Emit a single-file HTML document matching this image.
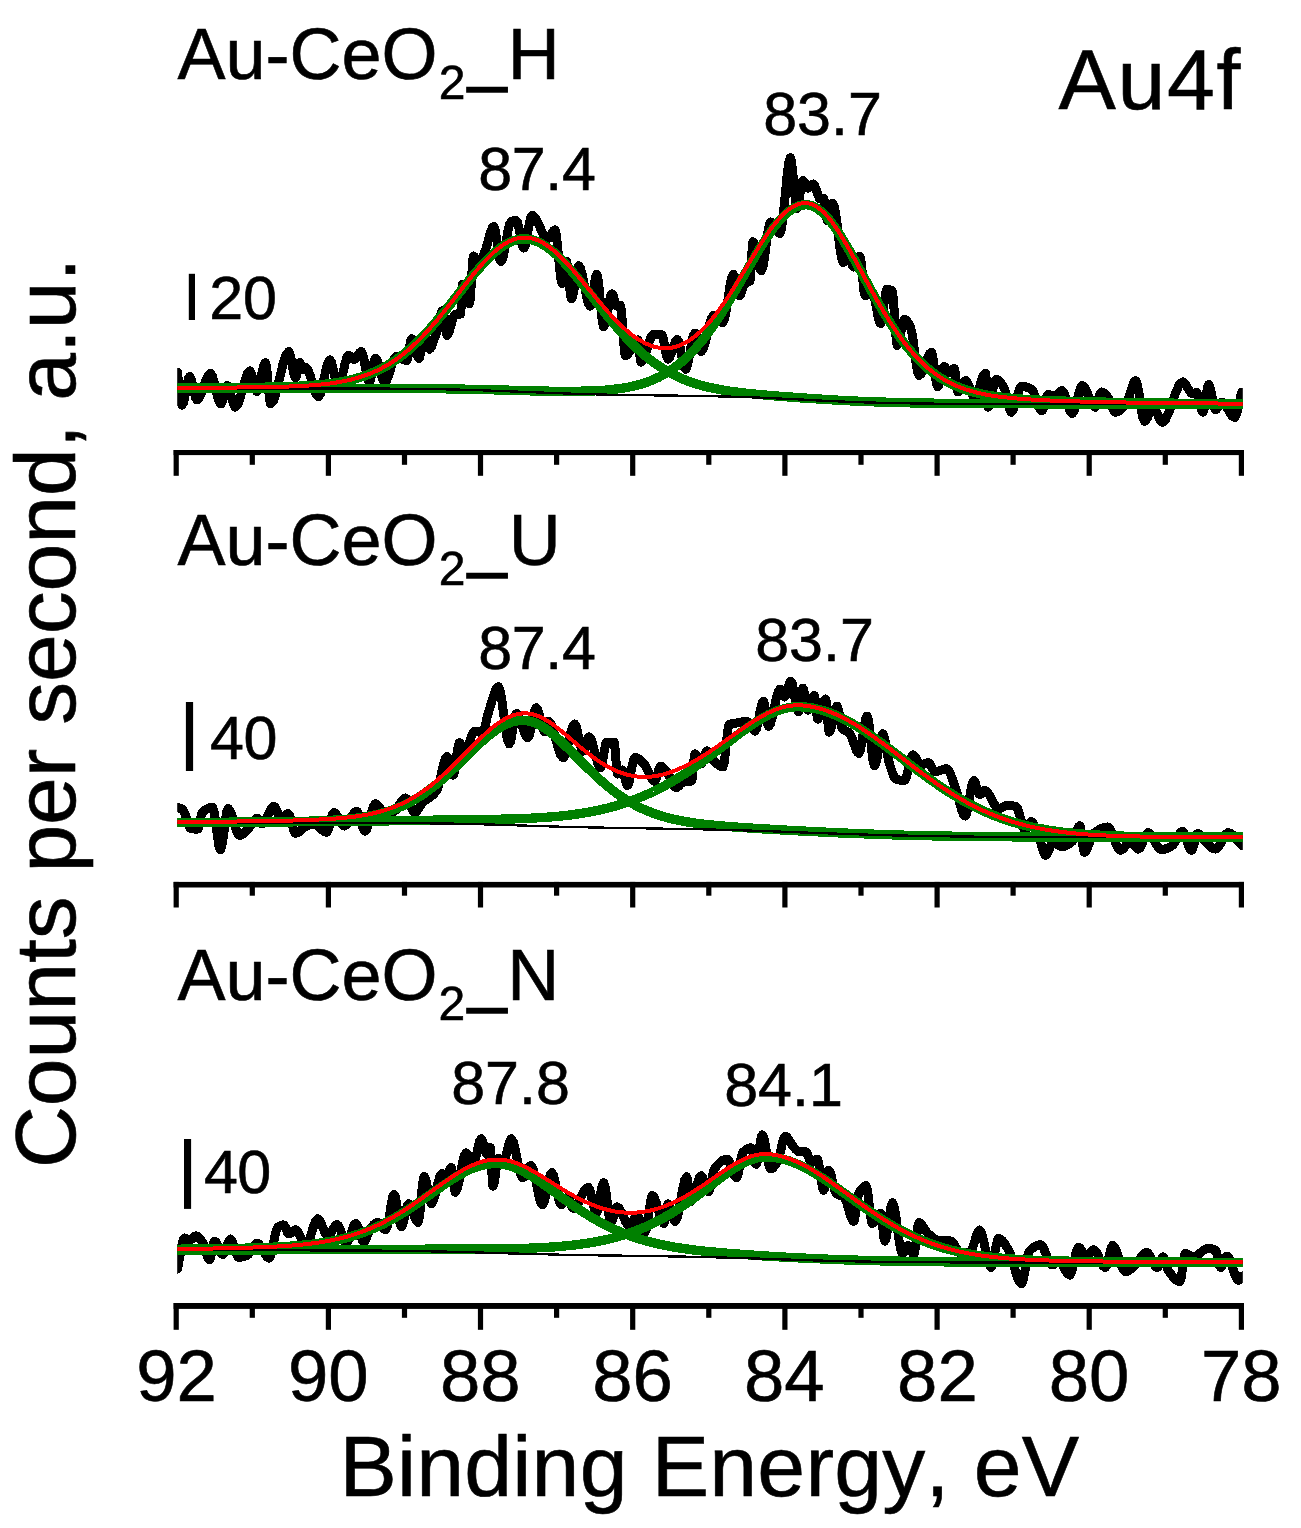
<!DOCTYPE html>
<html lang="en"><head><meta charset="utf-8"><title>Au4f XPS spectra</title>
<style>
html,body{margin:0;padding:0;background:#fff}
body{width:1301px;height:1528px;overflow:hidden}
svg{display:block}
text{font-family:"Liberation Sans",sans-serif;fill:#000;stroke:#000;stroke-width:0.6px;font-kerning:none}
.d,.g,.b,.r{fill:none;stroke-linejoin:round;stroke-linecap:round;shape-rendering:crispEdges}
.d{stroke:#000;stroke-width:9}
.g{stroke:#008000;stroke-width:9.4}
.b{stroke:#000;stroke-width:2.3;stroke-linecap:butt}
.r{stroke:#f00;stroke-width:4}
.ax{fill:none;stroke:#000;stroke-width:6}
.tk{fill:none;stroke:#000;stroke-width:5.6}
</style></head><body>
<svg width="1301" height="1528" viewBox="0 0 1301 1528">
<rect width="1301" height="1528" fill="#fff"/>
<clipPath id="cp"><rect x="177.2" y="0" width="1065.6" height="1528"/></clipPath>
<g clip-path="url(#cp)">
<path class="d" d="M177.5 372.3L178.2 378.5L179 385.7L179.8 392.8L180.5 399.0L181.3 403.4L182 405.1L183.3 403.0L184.6 397.7L185.9 390.8L187.2 383.9L188.4 378.6L189.7 376.4L190.9 378.2L192.1 382.5L193.3 388.2L194.6 393.8L195.8 398.2L197 399.9L199.2 397.9L201.5 393.0L203.7 386.6L206 380.2L208.2 375.3L210.5 373.3L212.2 375.6L213.9 381.3L215.7 388.7L217.4 396.1L219.1 401.8L220.8 404.0L221.9 402.7L222.9 399.2L224 394.7L225 390.2L226 386.7L227.1 385.4L228.4 387.0L229.8 391.0L231.2 396.3L232.6 401.5L234 405.5L235.4 407.2L237.8 404.5L240.2 397.7L242.6 389.0L245.1 380.3L247.5 373.5L249.9 370.8L251 372.4L252.2 376.2L253.3 381.2L254.5 386.2L255.6 390.1L256.7 391.6L258.2 389.4L259.6 384.1L261.1 377.1L262.6 370.1L264 364.7L265.5 362.5L266.3 365.6L267.2 373.3L268 383.3L268.9 393.3L269.8 401.0L270.6 404.0L273.7 400.2L276.7 390.4L279.7 377.8L282.7 365.2L285.7 355.4L288.7 351.5L289.8 353.5L291 358.4L292.1 364.8L293.3 371.2L294.4 376.1L295.5 378.1L296.2 377.0L296.9 374.1L297.6 370.3L298.3 366.6L299 363.7L299.7 362.5L300.2 363.1L300.7 364.4L301.3 366.2L301.8 367.9L302.3 369.3L302.8 369.8L303.3 369.6L303.8 369.3L304.4 368.8L304.9 368.3L305.4 367.9L305.9 367.7L308 369.9L310.1 375.3L312.1 382.3L314.2 389.2L316.3 394.6L318.4 396.8L320.3 394.0L322.2 387.2L324.1 378.3L326 369.4L327.9 362.6L329.8 359.8L331.2 361.8L332.7 366.7L334.1 373.1L335.6 379.5L337 384.4L338.5 386.4L340.2 384.1L341.8 378.3L343.5 370.8L345.1 363.3L346.8 357.6L348.5 355.3L349.4 355.6L350.4 356.4L351.4 357.4L352.3 358.4L353.3 359.1L354.3 359.4L355.4 358.8L356.6 357.4L357.8 355.5L359 353.6L360.2 352.1L361.3 351.5L362.6 353.8L364 359.5L365.3 366.9L366.6 374.3L367.9 380.0L369.2 382.3L370.2 380.5L371.3 376.1L372.3 370.3L373.4 364.6L374.4 360.2L375.4 358.4L377 360.2L378.5 364.6L380.1 370.3L381.7 376.1L383.2 380.5L384.8 382.3L386.7 380.3L388.6 375.5L390.5 369.3L392.4 363.0L394.3 358.2L396.2 356.3L397.9 356.6L399.6 357.4L401.4 358.4L403.1 359.4L404.8 360.2L406.6 360.5L407.4 358.9L408.3 354.8L409.2 349.6L410 344.3L410.9 340.3L411.8 338.7L413 340.1L414.2 343.8L415.4 348.5L416.6 353.3L417.8 356.9L419 358.4L419.9 356.7L420.7 352.5L421.6 347.0L422.5 341.5L423.3 337.3L424.2 335.6L425.1 336.6L425.9 339.1L426.8 342.3L427.7 345.6L428.5 348.1L429.4 349.1L430.4 348.4L431.4 346.7L432.5 344.2L433.5 341.3L434.5 338.2L435.6 335.3L436.8 331.2L438 325.9L439.2 320.4L440.4 315.4L441.6 311.7L442.8 310.4L443.5 312.2L444.2 316.8L444.9 322.8L445.6 328.8L446.3 333.4L447 335.3L448.4 333.7L449.7 330.0L451.1 325.0L452.5 320.1L453.9 316.2L455.3 314.5L456.1 314.4L457 314.4L457.9 314.3L458.7 314.3L459.6 314.2L460.5 314.1L460.8 311.8L461.2 306.3L461.5 299.2L461.8 292.1L462.2 286.6L462.5 284.4L463.7 285.8L464.8 289.4L466 294.1L467.1 298.7L468.2 302.3L469.4 303.7L470.1 300.2L470.8 291.3L471.5 279.9L472.2 268.4L472.8 259.5L473.5 256.0L474.5 256.6L475.5 258.2L476.4 260.2L477.4 262.3L478.4 263.9L479.3 264.5L480.4 263.7L481.5 261.7L482.6 258.8L483.6 255.5L484.7 252.0L485.8 248.9L487.1 244.9L488.4 240.1L489.7 235.2L491 230.8L492.4 227.7L493.7 226.5L494.9 229.1L496.1 235.6L497.3 244.1L498.5 252.5L499.7 259.0L500.9 261.6L502.7 258.6L504.4 251.2L506.1 241.5L507.8 231.8L509.6 224.3L511.3 221.1L512.2 221.0L513 220.9L513.9 220.8L514.8 220.8L515.6 220.7L516.5 220.7L517.7 222.7L518.9 227.8L520.1 234.4L521.3 241.0L522.5 246.1L523.8 248.1L525.1 245.7L526.5 239.6L527.9 231.7L529.3 223.8L530.7 217.7L532.1 215.3L534.7 217.1L537.2 221.4L539.8 227.0L542.4 232.7L545 237.0L547.6 238.8L548.8 238.1L550 236.5L551.3 234.3L552.5 232.2L553.7 230.5L554.9 229.8L556.1 233.8L557.3 243.7L558.5 256.6L559.7 269.5L560.9 279.4L562.1 283.4L562.8 281.7L563.5 277.6L564.2 272.2L564.9 266.8L565.6 262.6L566.3 261.0L567.2 263.8L568 270.8L568.9 280.0L569.8 289.1L570.6 296.1L571.5 298.9L572.7 296.5L573.9 290.3L575.1 282.3L576.3 274.3L577.5 268.2L578.7 265.7L580.6 268.7L582.6 276.2L584.5 286.0L586.4 295.7L588.3 303.2L590.2 306.2L591.3 303.8L592.4 297.9L593.5 290.1L594.6 282.4L595.7 276.4L596.8 274.0L597.9 278.0L599.1 287.8L600.2 300.5L601.4 313.2L602.5 323.0L603.6 327.0L605 324.5L606.4 318.3L607.8 310.4L609.2 302.4L610.6 296.2L611.9 293.8L612.8 294.7L613.7 297.0L614.5 300.0L615.4 303.0L616.3 305.3L617.1 306.2L617.7 306.1L618.2 305.9L618.7 305.7L619.2 305.4L619.7 305.2L620.2 305.2L621.1 308.9L622 318.3L622.8 330.6L623.7 342.8L624.6 352.2L625.4 356.0L627.5 354.8L629.6 351.8L631.7 347.9L633.7 344.0L635.8 341.0L637.9 339.8L638.4 341.5L638.9 345.6L639.4 351.0L640 356.4L640.5 360.6L641 362.2L643.1 360.2L645.2 355.0L647.2 348.2L649.3 341.5L651.4 336.3L653.5 334.2L654.8 334.2L656.2 334.3L657.6 334.4L659 334.5L660.4 334.6L661.8 334.8L662.8 336.8L663.8 341.3L664.9 347.1L665.9 352.9L666.9 357.3L668 359.1L669.5 357.7L671.1 354.0L672.6 349.3L674.2 344.5L675.8 340.9L677.3 339.4L678.7 341.6L680.1 347.2L681.4 354.4L682.8 361.6L684.2 367.1L685.6 369.3L687.1 366.6L688.7 359.9L690.2 351.1L691.8 342.4L693.3 335.7L694.9 333.0L695.9 334.4L697 337.8L698 342.3L699.1 346.8L700.1 350.3L701.1 351.7L703.2 349.0L705.3 342.2L707.4 333.5L709.4 324.8L711.5 318.0L713.6 315.3L715.1 315.9L716.7 317.2L718.2 319.0L719.8 320.7L721.4 322.1L722.9 322.6L724.6 319.0L726.4 310.1L728.1 298.4L729.8 286.8L731.6 277.8L733.3 274.3L734.3 275.8L735.4 279.8L736.4 284.9L737.4 290.1L738.5 294.1L739.5 295.6L740.4 294.8L741.2 292.7L742.1 289.9L743 286.9L743.8 284.5L744.7 283.2L745.6 282.7L746.4 282.4L747.3 282.2L748.2 282.0L749 281.7L749.9 281.1L750.4 277.9L750.9 270.5L751.4 261.1L752 251.7L752.5 244.5L753 241.7L754.4 243.8L755.8 249.2L757.2 256.2L758.5 263.2L759.9 268.6L761.3 270.7L762.9 267.1L764.4 258.1L766 246.3L767.5 234.6L769.1 225.6L770.6 222.0L772.2 222.8L773.8 224.9L775.3 227.7L776.9 230.4L778.4 232.5L780 233.4L781.7 227.8L783.4 213.7L785.2 195.5L786.9 177.3L788.6 163.2L790.4 157.6L791.5 161.4L792.6 170.8L793.7 183.1L794.8 195.3L795.9 204.7L797 208.5L798 206.4L798.9 201.2L799.9 194.5L800.9 187.7L801.8 182.5L802.8 180.5L803.7 181.0L804.5 182.5L805.4 184.3L806.3 186.2L807.1 187.6L808 188.1L808.9 187.8L809.7 187.1L810.6 186.1L811.5 185.1L812.3 184.3L813.2 184.0L814.4 185.1L815.6 187.9L816.8 191.6L818 195.2L819.2 198.0L820.4 199.1L821 199.1L821.5 199.0L822 198.8L822.5 198.7L823 198.6L823.6 198.5L824.3 200.2L824.9 204.3L825.6 209.7L826.3 215.1L827 219.3L827.7 220.9L828.6 219.6L829.4 216.4L830.3 212.1L831.2 207.9L832 204.6L832.9 203.3L834.6 207.7L836.4 218.6L838.1 232.9L839.8 247.1L841.5 258.1L843.3 262.4L844.1 262.0L845 260.8L845.9 259.3L846.7 257.8L847.6 256.7L848.5 256.2L849.3 257.0L850.2 259.0L851.1 261.6L851.9 264.2L852.8 266.2L853.6 267.0L854.7 266.2L855.7 264.2L856.8 261.6L857.8 259.0L858.8 257.0L859.9 256.2L860.7 259.1L861.6 266.4L862.5 275.9L863.3 285.4L864.2 292.7L865.1 295.6L866.3 295.4L867.5 294.8L868.7 294.1L869.9 293.3L871.1 292.8L872.3 292.5L873.7 294.8L875.1 300.6L876.5 308.1L877.9 315.6L879.2 321.3L880.6 323.6L881.7 321.1L882.7 314.8L883.7 306.5L884.8 298.3L885.8 291.9L886.8 289.4L887.7 289.4L888.6 289.5L889.4 289.7L890.3 289.9L891.2 290.1L892 290.4L892.9 294.8L893.8 305.0L894.6 318.2L895.5 331.3L896.4 341.4L897.2 345.4L898.4 343.5L899.6 338.7L900.9 332.5L902.1 326.2L903.3 321.4L904.5 319.5L905.5 319.8L906.6 320.7L907.6 322.0L908.6 323.7L909.7 325.7L910.7 327.8L912.1 333.4L913.5 342.8L914.9 353.8L916.2 364.4L917.6 372.4L919 375.5L921.1 373.8L923.1 369.5L925.2 363.9L927.3 358.2L929.3 353.9L931.4 352.2L932.5 354.8L933.5 361.2L934.6 369.6L935.6 377.9L936.7 384.4L937.8 386.9L938.8 385.4L939.9 381.7L940.9 376.8L942 371.9L943 368.1L944.1 366.6L944.9 367.1L945.8 368.3L946.6 369.8L947.5 371.3L948.3 372.5L949.2 373.0L950 372.6L950.9 371.8L951.7 370.7L952.6 369.6L953.4 368.8L954.2 368.4L954.9 370.2L955.5 374.5L956.1 380.2L956.8 385.9L957.4 390.3L958.1 392.0L959.3 391.2L960.6 389.0L961.9 386.3L963.1 383.5L964.4 381.4L965.7 380.6L967.1 381.9L968.6 385.1L970.1 389.2L971.6 393.4L973.1 396.6L974.5 397.8L976.4 396.0L978.2 391.4L980 385.4L981.8 379.4L983.6 374.8L985.4 373.0L985.9 375.5L986.3 381.9L986.7 390.1L987.1 398.3L987.6 404.7L988 407.2L989.3 405.2L990.7 400.0L992 393.3L993.4 386.6L994.8 381.4L996.1 379.3L997.4 379.6L998.6 380.4L999.9 381.7L1001.2 383.2L1002.4 385.0L1003.7 386.9L1005 390.2L1006.3 395.2L1007.5 401.1L1008.8 406.6L1010.1 410.7L1011.3 412.3L1013 410.4L1014.7 405.5L1016.4 399.2L1018.1 392.9L1019.8 388.1L1021.5 386.2L1023.2 386.3L1024.9 386.6L1026.5 387.1L1028.2 387.8L1029.9 388.6L1031.6 389.5L1033.3 391.7L1035 395.9L1036.7 401.0L1038.4 405.9L1040.1 409.6L1041.8 411.0L1042.8 409.8L1043.9 406.8L1044.9 402.8L1046 398.8L1047.1 395.8L1048.1 394.5L1049.2 394.7L1050.2 395.0L1051.3 395.4L1052.3 395.9L1053.4 396.2L1054.4 396.3L1055.7 395.9L1057 394.9L1058.3 393.5L1059.5 392.2L1060.8 391.1L1062.1 390.7L1063.8 392.4L1065.4 396.7L1067.1 402.2L1068.8 407.6L1070.5 411.9L1072.2 413.6L1073.9 411.5L1075.6 406.3L1077.3 399.6L1079 392.9L1080.7 387.7L1082.4 385.7L1084.5 387.3L1086.6 391.3L1088.7 396.4L1090.8 401.6L1092.9 405.6L1095 407.2L1096.1 406.1L1097.2 403.3L1098.2 399.6L1099.3 396.0L1100.3 393.1L1101.4 392.0L1102.4 392.2L1103.5 392.8L1104.6 393.6L1105.6 394.7L1106.7 395.9L1107.7 397.1L1109 399.2L1110.3 402.3L1111.5 405.8L1112.8 409.0L1114.1 411.4L1115.3 412.3L1117.2 411.9L1119.1 410.8L1121 409.1L1122.9 407.0L1124.8 404.7L1126.7 402.2L1128.2 399.2L1129.7 394.8L1131.2 389.9L1132.7 385.3L1134.1 381.9L1135.6 380.6L1137.1 383.6L1138.6 391.1L1140.1 400.9L1141.5 410.7L1143 418.2L1144.5 421.2L1146 420.1L1147.5 417.6L1148.9 414.2L1150.4 410.8L1151.9 408.3L1153.4 407.2L1154.9 408.4L1156.3 411.2L1157.8 414.8L1159.3 418.5L1160.8 421.3L1162.3 422.4L1165.6 419.4L1169 411.9L1172.4 402.2L1175.8 392.4L1179.2 384.9L1182.6 381.9L1184.2 382.7L1185.9 384.9L1187.6 387.8L1189.3 390.7L1191 392.9L1192.7 393.8L1193.3 393.7L1194 393.5L1194.6 393.1L1195.2 392.8L1195.9 392.6L1196.5 392.5L1197.6 394.0L1198.6 397.6L1199.7 402.4L1200.7 407.2L1201.8 410.8L1202.9 412.3L1203.8 410.2L1204.8 405.1L1205.8 398.3L1206.7 391.6L1207.7 386.5L1208.7 384.4L1209.8 386.3L1211 391.0L1212.1 397.1L1213.3 403.2L1214.4 407.9L1215.5 409.8L1216.6 409.2L1217.6 407.8L1218.7 406.0L1219.8 404.1L1220.8 402.7L1221.9 402.2L1224 403.3L1226.1 406.1L1228.2 409.8L1230.3 413.4L1232.4 416.2L1234.6 417.4L1235.7 416.1L1236.9 412.7L1238.1 407.9L1239.3 402.3L1240.5 396.8L1241.7 392.0"/>
<path class="g" d="M177.3 387.9L181.3 387.9L185.3 387.9L189.3 387.9L193.3 387.9L197.3 387.8L201.3 387.8L205.3 387.8L209.3 387.8L213.3 387.7L217.3 387.7L221.3 387.7L225.3 387.7L229.3 387.6L233.3 387.6L237.3 387.5L241.3 387.5L245.3 387.5L249.3 387.4L253.3 387.4L257.3 387.3L261.3 387.3L265.3 387.2L269.3 387.1L273.3 387.0L277.3 386.9L281.3 386.8L285.3 386.7L289.3 386.6L293.3 386.4L297.3 386.3L301.3 386.1L305.3 385.8L309.3 385.6L313.3 385.3L317.2 385.0L321.2 384.6L325.2 384.2L329.2 383.7L333.1 383.2L337.1 382.6L341 381.9L345 381.2L348.9 380.3L352.8 379.4L356.6 378.3L360.5 377.2L364.3 376.0L368 374.6L371.7 373.1L375.4 371.5L379 369.8L382.6 368.0L386.1 366.1L389.5 364.0L392.9 361.9L396.2 359.7L399.5 357.3L402.7 354.9L405.8 352.4L408.8 349.8L411.8 347.2L414.8 344.5L417.7 341.7L420.5 338.9L423.3 336.0L426 333.1L428.7 330.2L431.4 327.2L434 324.2L436.6 321.1L439.2 318.1L441.7 315.0L444.3 311.9L446.8 308.7L449.3 305.6L451.7 302.5L454.2 299.3L456.7 296.2L459.1 293.0L461.6 289.9L464.1 286.7L466.5 283.6L469 280.4L471.5 277.3L474.1 274.2L476.7 271.2L479.3 268.2L481.9 265.2L484.6 262.2L487.4 259.3L490.2 256.5L493.2 253.8L496.2 251.2L499.3 248.7L502.5 246.3L505.9 244.2L509.5 242.3L513.2 240.8L517 239.7L520.9 239.0L524.9 238.8L528.9 239.2L532.8 240.0L536.6 241.3L540.2 243.0L543.7 244.9L547.1 247.1L550.3 249.5L553.4 252.0L556.4 254.7L559.3 257.5L562.1 260.3L564.8 263.2L567.5 266.2L570.1 269.2L572.7 272.2L575.3 275.3L577.8 278.4L580.3 281.5L582.8 284.6L585.3 287.8L587.8 290.9L590.2 294.1L592.7 297.2L595.2 300.4L597.6 303.5L600.1 306.7L602.6 309.8L605.1 313.0L607.6 316.1L610.1 319.2L612.7 322.3L615.2 325.3L617.8 328.3L620.5 331.3L623.2 334.3L625.9 337.3L628.6 340.2L631.4 343.0L634.3 345.8L637.1 348.6L640.1 351.3L643.1 354.0L646.1 356.5L649.3 359.1L652.4 361.5L655.7 363.8L658.9 366.1L662.3 368.3L665.7 370.4L669.2 372.4L672.7 374.3L676.3 376.1L679.9 377.7L683.6 379.3L687.3 380.8L691.1 382.2L694.9 383.4L698.7 384.6L702.5 385.7L706.4 386.7L710.3 387.6L714.2 388.4L718.1 389.2L722.1 389.9L726 390.6L730 391.2L733.9 391.7L737.9 392.2L741.9 392.7L745.9 393.2L749.8 393.6L753.8 394.0L757.8 394.4L761.8 394.7L765.8 395.1L769.7 395.4L773.7 395.8L777.7 396.1L781.7 396.4L785.7 396.7L789.7 397.0L793.7 397.3L797.7 397.6L801.7 397.9L805.6 398.1L809.6 398.4L813.6 398.7L817.6 398.9L821.6 399.2L825.6 399.5L829.6 399.7L833.6 399.9L837.6 400.2L841.6 400.4L845.6 400.6L849.6 400.8L853.6 401.0L857.6 401.2L861.6 401.3L865.5 401.5L869.5 401.7L873.5 401.8L877.5 401.9L881.5 402.1L885.5 402.2L889.5 402.3L893.5 402.4L897.5 402.5L901.5 402.6L905.5 402.7L909.5 402.8L913.5 402.9L917.5 402.9L921.5 403.0L925.5 403.0L929.5 403.1L933.5 403.2L937.5 403.2L941.5 403.2L945.5 403.3L949.5 403.3L953.5 403.4L957.5 403.4L961.5 403.4L965.5 403.5L969.5 403.5L973.5 403.5L977.5 403.5L981.5 403.6L985.5 403.6L989.5 403.6L993.5 403.6L997.5 403.6L1001.5 403.6L1005.5 403.7L1009.5 403.7L1013.5 403.7L1017.5 403.7L1021.5 403.7L1025.5 403.7L1029.5 403.7L1033.5 403.8L1037.5 403.8L1041.5 403.8L1045.5 403.8L1049.5 403.8L1053.5 403.8L1057.5 403.8L1061.5 403.8L1065.5 403.8L1069.5 403.8L1073.5 403.9L1077.5 403.9L1081.5 403.9L1085.5 403.9L1089.5 403.9L1093.5 403.9L1097.5 403.9L1101.5 403.9L1105.5 403.9L1109.5 403.9L1113.5 403.9L1117.5 403.9L1121.5 403.9L1125.5 403.9L1129.5 403.9L1133.5 403.9L1137.5 403.9L1141.5 403.9L1145.5 404.0L1149.5 404.0L1153.5 404.0L1157.5 404.0L1161.5 404.0L1165.5 404.0L1169.5 404.0L1173.5 404.0L1177.5 404.0L1181.5 404.0L1185.5 404.0L1189.5 404.0L1193.5 404.0L1197.5 404.0L1201.5 404.0L1205.5 404.0L1209.5 404.0L1213.5 404.0L1217.5 404.0L1221.5 404.0L1225.5 404.0L1229.5 404.0L1233.5 404.0L1237.5 404.0L1241.5 404.0L1242.6 404.0"/>
<path class="g" d="M177.3 388.4L181.3 388.4L185.3 388.4L189.3 388.4L193.3 388.4L197.3 388.4L201.3 388.4L205.3 388.4L209.3 388.4L213.3 388.4L217.3 388.4L221.3 388.4L225.3 388.4L229.3 388.3L233.3 388.3L237.3 388.3L241.3 388.3L245.3 388.3L249.3 388.3L253.3 388.3L257.3 388.3L261.3 388.3L265.3 388.3L269.3 388.3L273.3 388.3L277.3 388.3L281.3 388.3L285.3 388.3L289.3 388.3L293.3 388.3L297.3 388.3L301.3 388.3L305.3 388.3L309.3 388.3L313.3 388.3L317.3 388.3L321.3 388.3L325.3 388.3L329.3 388.3L333.3 388.3L337.3 388.3L341.3 388.3L345.3 388.3L349.3 388.3L353.3 388.3L357.3 388.3L361.3 388.3L365.3 388.3L369.3 388.3L373.3 388.3L377.3 388.3L381.3 388.3L385.3 388.3L389.3 388.3L393.3 388.3L397.3 388.4L401.3 388.4L405.3 388.4L409.3 388.4L413.3 388.5L417.3 388.5L421.3 388.5L425.3 388.6L429.3 388.6L433.3 388.6L437.3 388.7L441.3 388.7L445.3 388.8L449.3 388.9L453.3 388.9L457.3 389.0L461.3 389.1L465.3 389.2L469.3 389.2L473.3 389.3L477.3 389.4L481.3 389.5L485.3 389.6L489.3 389.7L493.3 389.8L497.3 389.9L501.3 390.0L505.3 390.1L509.3 390.2L513.3 390.3L517.3 390.5L521.3 390.6L525.3 390.7L529.3 390.8L533.3 390.9L537.3 391.0L541.3 391.0L545.3 391.1L549.3 391.2L553.3 391.2L557.3 391.3L561.3 391.3L565.3 391.3L569.3 391.3L573.3 391.3L577.3 391.3L581.3 391.2L585.3 391.1L589.3 391.0L593.3 390.9L597.3 390.7L601.3 390.4L605.2 390.2L609.2 389.8L613.2 389.4L617.2 388.9L621.1 388.4L625.1 387.8L629 387.0L632.9 386.2L636.8 385.2L640.7 384.2L644.5 383.0L648.3 381.7L652 380.2L655.7 378.6L659.3 376.9L662.8 375.0L666.3 373.0L669.7 370.9L673 368.7L676.2 366.3L679.3 363.8L682.4 361.2L685.4 358.6L688.3 355.8L691.1 353.0L693.8 350.1L696.5 347.1L699.1 344.1L701.7 341.0L704.2 337.9L706.6 334.7L709 331.5L711.4 328.2L713.7 325.0L715.9 321.7L718.1 318.3L720.3 315.0L722.5 311.6L724.6 308.2L726.7 304.8L728.8 301.4L730.8 298.0L732.9 294.6L734.9 291.1L736.9 287.7L738.9 284.2L740.9 280.7L742.9 277.3L744.9 273.8L746.9 270.3L748.9 266.9L750.9 263.4L753 260.0L755 256.5L757 253.1L759.1 249.6L761.2 246.2L763.3 242.9L765.5 239.5L767.7 236.2L770 232.9L772.3 229.6L774.7 226.4L777.2 223.3L779.8 220.2L782.5 217.3L785.3 214.5L788.3 211.8L791.5 209.5L795 207.4L798.7 205.9L802.5 204.9L806.5 204.7L810.5 205.3L814.2 206.8L817.7 208.8L820.8 211.2L823.8 213.9L826.6 216.8L829.2 219.8L831.7 222.9L834 226.1L836.3 229.4L838.5 232.8L840.7 236.1L842.8 239.5L844.9 243.0L846.9 246.4L848.9 249.9L850.9 253.4L852.8 256.8L854.7 260.3L856.7 263.9L858.6 267.4L860.5 270.9L862.4 274.4L864.3 277.9L866.2 281.4L868.1 284.9L870 288.4L872 292.0L873.9 295.4L875.9 298.9L877.9 302.4L879.9 305.9L881.9 309.3L883.9 312.8L886 316.2L888.1 319.6L890.2 323.0L892.4 326.3L894.6 329.7L896.8 333.0L899.1 336.3L901.5 339.5L903.9 342.7L906.3 345.9L908.9 349.0L911.4 352.0L914.1 355.0L916.8 358.0L919.6 360.8L922.4 363.6L925.4 366.3L928.4 369.0L931.5 371.5L934.7 373.9L938 376.2L941.3 378.4L944.8 380.4L948.3 382.4L951.8 384.2L955.5 385.8L959.2 387.4L962.9 388.8L966.7 390.1L970.5 391.2L974.4 392.3L978.3 393.2L982.2 394.1L986.1 394.9L990 395.6L994 396.2L997.9 396.7L1001.9 397.2L1005.9 397.7L1009.9 398.1L1013.8 398.5L1017.8 398.8L1021.8 399.1L1025.8 399.4L1029.8 399.6L1033.8 399.9L1037.8 400.1L1041.8 400.3L1045.8 400.5L1049.8 400.6L1053.8 400.8L1057.8 400.9L1061.8 401.1L1065.8 401.2L1069.8 401.3L1073.8 401.5L1077.8 401.6L1081.8 401.7L1085.8 401.8L1089.8 401.9L1093.8 402.0L1097.8 402.1L1101.8 402.1L1105.8 402.2L1109.8 402.3L1113.8 402.4L1117.8 402.4L1121.8 402.5L1125.8 402.6L1129.8 402.6L1133.8 402.7L1137.8 402.8L1141.8 402.8L1145.8 402.9L1149.8 402.9L1153.7 403.0L1157.7 403.0L1161.7 403.0L1165.7 403.1L1169.7 403.1L1173.7 403.2L1177.7 403.2L1181.7 403.2L1185.7 403.3L1189.7 403.3L1193.7 403.3L1197.7 403.4L1201.7 403.4L1205.7 403.4L1209.7 403.4L1213.7 403.5L1217.7 403.5L1221.7 403.5L1225.7 403.5L1229.7 403.6L1233.7 403.6L1237.7 403.6L1241.7 403.6L1242.6 403.6"/>
<path class="b" d="M177.3 388.4L185.3 388.4L193.3 388.4L201.3 388.4L209.3 388.4L217.3 388.4L225.3 388.4L233.3 388.4L241.3 388.4L249.3 388.4L257.3 388.4L265.3 388.4L273.3 388.4L281.3 388.4L289.3 388.4L297.3 388.4L305.3 388.4L313.3 388.4L321.3 388.5L329.3 388.5L337.3 388.5L345.3 388.5L353.3 388.5L361.3 388.5L369.3 388.6L377.3 388.6L385.3 388.6L393.3 388.7L401.3 388.7L409.3 388.8L417.3 388.9L425.3 389.0L433.3 389.1L441.3 389.3L449.3 389.4L457.3 389.6L465.3 389.8L473.3 390.1L481.3 390.3L489.3 390.6L497.3 390.9L505.3 391.2L513.3 391.5L521.3 391.8L529.2 392.1L537.2 392.4L545.2 392.7L553.2 393.0L561.2 393.3L569.2 393.6L577.2 393.9L585.2 394.1L593.2 394.3L601.2 394.5L609.2 394.7L617.2 394.8L625.2 395.0L633.2 395.1L641.2 395.2L649.2 395.3L657.2 395.4L665.2 395.5L673.2 395.6L681.2 395.7L689.2 395.8L697.2 396.0L705.2 396.1L713.2 396.3L721.2 396.4L729.2 396.6L737.2 396.9L745.2 397.1L753.2 397.4L761.2 397.7L769.2 398.0L777.2 398.4L785.1 398.8L793.1 399.1L801.1 399.5L809.1 400.0L817.1 400.4L825.1 400.8L833.1 401.1L841.1 401.5L849.1 401.8L857.1 402.1L865.1 402.4L873.1 402.6L881.1 402.8L889.1 403.0L897.1 403.2L905.1 403.3L913.1 403.4L921.1 403.5L929.1 403.6L937.1 403.7L945.1 403.7L953.1 403.8L961.1 403.8L969.1 403.8L977.1 403.8L985.1 403.9L993.1 403.9L1001.1 403.9L1009.1 403.9L1017.1 403.9L1025.1 403.9L1033.1 403.9L1041.1 404.0L1049.1 404.0L1057.1 404.0L1065.1 404.0L1073.1 404.0L1081.1 404.0L1089.1 404.0L1097.1 404.0L1105.1 404.0L1113.1 404.0L1121.1 404.0L1129.1 404.0L1137.1 404.0L1145.1 404.0L1153.1 404.0L1161.1 404.0L1169.1 404.0L1177.1 404.0L1185.1 404.0L1193.1 404.0L1201.1 404.0L1209.1 404.0L1217.1 404.0L1225.1 404.0L1233.1 404.0L1241.1 404.0L1242.6 404.0"/>
<path class="r" d="M177.3 387.9L181.3 387.9L185.3 387.9L189.3 387.8L193.3 387.8L197.3 387.8L201.3 387.8L205.3 387.7L209.3 387.7L213.3 387.7L217.3 387.7L221.3 387.6L225.3 387.6L229.3 387.6L233.3 387.5L237.3 387.5L241.3 387.4L245.3 387.4L249.3 387.3L253.3 387.3L257.3 387.2L261.3 387.2L265.3 387.1L269.3 387.0L273.3 386.9L277.3 386.8L281.3 386.7L285.3 386.6L289.3 386.5L293.3 386.3L297.3 386.1L301.3 385.9L305.3 385.7L309.3 385.5L313.2 385.2L317.2 384.8L321.2 384.5L325.2 384.0L329.2 383.6L333.1 383.0L337.1 382.4L341 381.7L345 381.0L348.9 380.1L352.7 379.2L356.6 378.1L360.4 377.0L364.2 375.7L368 374.4L371.7 372.9L375.4 371.3L379 369.6L382.6 367.7L386.1 365.8L389.5 363.8L392.9 361.6L396.2 359.4L399.4 357.0L402.6 354.6L405.7 352.1L408.8 349.5L411.8 346.9L414.7 344.1L417.6 341.4L420.4 338.6L423.2 335.7L425.9 332.8L428.6 329.8L431.3 326.8L433.9 323.8L436.5 320.8L439.1 317.7L441.6 314.6L444.1 311.5L446.6 308.4L449.1 305.2L451.6 302.1L454 298.9L456.5 295.8L458.9 292.6L461.4 289.4L463.9 286.3L466.3 283.1L468.8 280.0L471.3 276.9L473.8 273.8L476.4 270.7L479 267.7L481.6 264.7L484.3 261.7L487.1 258.8L489.9 256.0L492.8 253.2L495.8 250.5L498.9 248.0L502.1 245.6L505.4 243.5L508.9 241.5L512.6 239.9L516.4 238.6L520.3 237.8L524.3 237.5L528.3 237.7L532.2 238.5L536 239.6L539.7 241.2L543.3 243.0L546.7 245.2L549.9 247.5L553 250.0L556.1 252.6L559 255.3L561.9 258.1L564.7 260.9L567.4 263.9L570.1 266.8L572.7 269.8L575.4 272.9L577.9 275.9L580.5 279.0L583.1 282.1L585.6 285.2L588.1 288.3L590.7 291.3L593.2 294.4L595.7 297.5L598.3 300.6L600.9 303.7L603.5 306.7L606.1 309.7L608.7 312.7L611.4 315.7L614.2 318.6L617 321.5L619.8 324.3L622.7 327.0L625.7 329.7L628.7 332.3L631.8 334.8L635.1 337.2L638.4 339.4L641.8 341.4L645.4 343.3L649 344.9L652.8 346.3L656.7 347.3L660.6 348.0L664.6 348.2L668.6 348.1L672.5 347.5L676.4 346.6L680.2 345.2L683.8 343.6L687.3 341.7L690.7 339.5L693.9 337.2L697 334.6L700 332.0L702.9 329.2L705.7 326.3L708.4 323.3L711 320.3L713.5 317.2L716 314.1L718.4 310.9L720.7 307.6L723 304.4L725.3 301.1L727.5 297.7L729.7 294.4L731.9 291.0L734 287.6L736.1 284.2L738.2 280.8L740.3 277.4L742.4 274.0L744.4 270.6L746.5 267.2L748.6 263.7L750.6 260.3L752.7 256.9L754.8 253.5L756.9 250.1L759 246.7L761.2 243.3L763.3 239.9L765.6 236.6L767.8 233.3L770.1 230.0L772.5 226.8L774.9 223.7L777.5 220.6L780.1 217.6L782.9 214.7L785.8 211.9L788.9 209.4L792.2 207.1L795.7 205.2L799.4 203.8L803.4 203.1L807.4 203.2L811.3 204.0L814.9 205.6L818.3 207.8L821.4 210.3L824.3 213.0L827 216.0L829.6 219.0L832.1 222.2L834.4 225.4L836.7 228.7L838.9 232.1L841 235.5L843.1 238.9L845.1 242.3L847.1 245.8L849.1 249.2L851.1 252.7L853 256.2L854.9 259.7L856.9 263.2L858.8 266.8L860.7 270.3L862.6 273.8L864.5 277.3L866.4 280.8L868.3 284.3L870.2 287.9L872.1 291.4L874.1 294.9L876 298.4L878 301.8L880 305.3L882 308.8L884 312.2L886.1 315.6L888.2 319.0L890.3 322.4L892.5 325.8L894.7 329.1L896.9 332.4L899.2 335.7L901.6 339.0L904 342.2L906.4 345.3L908.9 348.4L911.5 351.5L914.1 354.5L916.8 357.5L919.6 360.3L922.5 363.1L925.4 365.9L928.4 368.5L931.5 371.0L934.7 373.4L938 375.7L941.3 377.9L944.7 380.0L948.2 381.9L951.8 383.7L955.4 385.4L959.1 387.0L962.9 388.4L966.6 389.7L970.5 390.9L974.3 391.9L978.2 392.9L982.1 393.8L986 394.6L990 395.3L993.9 395.9L997.9 396.5L1001.8 397.0L1005.8 397.4L1009.8 397.9L1013.8 398.2L1017.8 398.6L1021.7 398.9L1025.7 399.2L1029.7 399.4L1033.7 399.7L1037.7 399.9L1041.7 400.1L1045.7 400.3L1049.7 400.5L1053.7 400.6L1057.7 400.8L1061.7 400.9L1065.7 401.1L1069.7 401.2L1073.7 401.3L1077.7 401.4L1081.7 401.6L1085.7 401.7L1089.7 401.8L1093.7 401.9L1097.7 402.0L1101.7 402.0L1105.7 402.1L1109.7 402.2L1113.7 402.3L1117.7 402.4L1121.7 402.4L1125.7 402.5L1129.7 402.6L1133.7 402.6L1137.7 402.7L1141.7 402.7L1145.7 402.8L1149.7 402.8L1153.7 402.9L1157.7 402.9L1161.7 403.0L1165.7 403.0L1169.7 403.1L1173.7 403.1L1177.7 403.2L1181.7 403.2L1185.7 403.2L1189.7 403.3L1193.7 403.3L1197.7 403.3L1201.7 403.4L1205.7 403.4L1209.7 403.4L1213.7 403.4L1217.7 403.5L1221.7 403.5L1225.7 403.5L1229.7 403.5L1233.7 403.6L1237.7 403.6L1241.7 403.6L1242.6 403.6"/>
<path class="d" d="M177.5 807.3L178.4 807.7L179.3 808.1L180.2 808.4L181.1 808.8L182 809.2L182.9 809.8L184.2 811.9L185.5 815.4L186.8 819.7L188.1 823.9L189.4 827.1L190.8 828.5L192 828.7L193.2 828.8L194.4 829.0L195.6 829.0L196.8 829.1L198 829.1L198.7 828.0L199.4 825.1L200.1 821.3L200.8 817.4L201.5 814.2L202.2 812.5L203.9 810.9L205.6 809.6L207.4 808.6L209.1 807.9L210.8 807.5L212.5 807.3L213.9 810.5L215.2 818.4L216.5 828.6L217.8 838.8L219.1 846.7L220.4 849.9L221.7 846.8L223 839.1L224.3 829.1L225.5 819.1L226.8 811.4L228.1 808.4L230 810.4L231.9 815.4L233.8 821.9L235.7 828.4L237.6 833.3L239.5 835.3L241.1 835.0L242.6 834.1L244.2 832.8L245.7 831.3L247.3 829.6L248.9 828.1L250.2 826.4L251.6 824.3L253 822.1L254.4 820.1L255.8 818.7L257.2 818.1L258 818.6L258.9 819.6L259.7 821.0L260.6 822.4L261.5 823.5L262.3 823.9L264.2 822.6L266.1 819.4L268 815.1L270 810.9L271.9 807.6L273.8 806.3L275 807.2L276.2 809.4L277.4 812.2L278.6 815.1L279.8 817.2L281 818.1L282.2 817.8L283.4 816.9L284.7 815.8L285.9 814.7L287.1 813.9L288.3 813.6L289.5 815.0L290.7 818.7L291.9 823.4L293.1 828.2L294.3 831.8L295.5 833.3L297.1 832.9L298.7 832.0L300.2 830.7L301.8 829.3L303.3 828.0L304.9 827.0L306.3 826.4L307.6 825.7L309 825.0L310.4 824.4L311.8 824.1L313.2 823.9L315.4 824.5L317.7 826.1L319.9 828.1L322.2 830.1L324.4 831.6L326.7 832.2L327.9 830.8L329.1 827.1L330.3 822.4L331.5 817.6L332.7 814.0L333.9 812.5L335.7 813.5L337.4 816.0L339.1 819.3L340.9 822.5L342.6 825.0L344.3 826.0L346.4 824.9L348.5 822.1L350.5 818.5L352.6 814.9L354.7 812.2L356.8 811.1L358.1 812.6L359.5 816.3L360.9 821.1L362.3 826.0L363.7 829.7L365.1 831.2L366.8 829.2L368.5 824.1L370.2 817.5L372 810.9L373.7 805.8L375.4 803.8L377.2 804.6L378.9 806.6L380.6 809.2L382.4 811.8L384.1 813.8L385.8 814.6L387.2 814.5L388.6 814.1L390 813.6L391.3 813.0L392.7 812.2L394.1 811.5L396 809.8L397.9 807.0L399.8 803.9L401.7 801.0L403.6 798.8L405.5 798.0L407.1 799.1L408.6 801.8L410.2 805.3L411.8 808.8L413.3 811.4L414.9 812.5L416.1 812.0L417.3 810.7L418.5 808.8L419.7 806.7L420.9 804.8L422.1 803.2L424.5 801.0L427 799.2L429.4 797.6L431.8 795.9L434.2 793.7L436.6 790.7L438.3 786.5L440.1 779.7L441.8 771.8L443.5 764.3L445.2 758.7L447 756.5L448 757.9L449.1 761.3L450.1 765.8L451.1 770.3L452.2 773.8L453.2 775.2L454.2 772.8L455.3 766.7L456.3 758.9L457.4 751.0L458.4 745.0L459.4 742.6L460.3 743.3L461.2 745.0L462 747.2L462.9 749.4L463.8 751.0L464.6 751.7L466.3 750.2L468.1 746.3L469.8 741.3L471.5 736.3L473.3 732.5L475 731.0L476.2 731.1L477.4 731.5L478.6 732.0L479.8 732.5L481 732.9L482.3 733.0L483.3 731.9L484.3 729.0L485.4 725.0L486.4 720.4L487.4 715.9L488.5 712.3L490.1 707.0L491.8 701.3L493.5 695.8L495.1 691.1L496.8 687.8L498.4 686.6L500.2 690.8L502 701.5L503.8 715.3L505.6 729.1L507.4 739.8L509.2 744.0L510.4 741.8L511.7 736.1L512.9 728.8L514.1 721.4L515.3 715.8L516.5 713.5L518.4 715.3L520.3 719.8L522.2 725.7L524.1 731.5L526 736.0L527.9 737.8L529.3 735.6L530.7 730.0L532.1 722.8L533.4 715.5L534.8 710.0L536.2 707.7L537.6 709.5L539 713.9L540.4 719.7L541.7 725.4L543.1 729.8L544.5 731.6L545.2 730.8L545.9 728.9L546.6 726.4L547.3 723.9L548 722.0L548.7 721.2L551.1 723.9L553.5 730.7L555.9 739.6L558.3 748.4L560.8 755.2L563.2 757.9L565.1 755.4L567 749.1L568.9 740.9L570.8 732.7L572.7 726.4L574.6 723.9L576 725.9L577.4 731.0L578.7 737.6L580.1 744.2L581.5 749.3L582.9 751.3L583.9 750.2L585 747.5L586 744.0L587 740.5L588.1 737.9L589.1 736.8L591 739.1L592.9 744.8L594.8 752.3L596.7 759.8L598.6 765.6L600.5 767.9L601.6 766.0L602.6 761.2L603.6 754.9L604.7 748.7L605.7 743.9L606.8 742.0L608 742.0L609.2 742.0L610.4 742.0L611.6 742.0L612.8 742.0L614 742.0L614.6 744.3L615.2 750.3L615.8 758.0L616.4 765.8L617 771.7L617.6 774.1L618.3 773.8L619.1 773.1L619.9 772.1L620.7 771.1L621.5 770.3L622.3 770.0L623.2 771.1L624.1 774.0L624.9 777.8L625.8 781.5L626.6 784.4L627.5 785.5L628.7 783.5L629.9 778.3L631.1 771.5L632.4 764.8L633.6 759.6L634.8 757.5L636.3 757.8L637.9 758.5L639.4 759.5L641 760.8L642.6 762.3L644.1 763.8L645.8 766.2L647.6 769.8L649.3 773.8L651 777.6L652.8 780.3L654.5 781.4L655.5 780.3L656.6 777.5L657.6 773.8L658.6 770.2L659.7 767.4L660.7 766.2L661.8 766.5L662.8 767.2L663.8 768.2L664.9 769.5L665.9 770.8L666.9 772.1L668.5 774.5L670.1 777.7L671.6 781.2L673.2 784.4L674.7 786.7L676.3 787.6L677.3 787.3L678.3 786.4L679.4 785.3L680.4 784.1L681.4 783.0L682.5 782.4L684 782.1L685.6 781.9L687.1 781.7L688.7 781.6L690.2 781.3L691.8 780.8L692.3 778.6L692.8 773.6L693.3 767.1L693.9 760.7L694.4 755.8L694.9 753.8L695.9 754.5L697 756.4L698 758.8L699.1 761.2L700.1 763.0L701.1 763.8L702.1 762.8L703.1 760.4L704 757.3L705 754.2L706 751.8L706.9 750.9L708.2 751.5L709.5 753.2L710.8 755.5L712.1 757.9L713.3 760.1L714.6 761.7L716 762.9L717.4 764.1L718.8 765.2L720.1 766.1L721.5 766.7L722.9 766.9L724 763.8L725 756.2L726 746.2L727.1 736.1L728.1 728.2L729.1 724.7L730.7 724.1L732.3 723.7L733.8 723.4L735.4 723.2L736.9 722.9L738.5 722.7L739.9 722.4L741.2 722.1L742.6 721.7L744 721.5L745.4 721.3L746.8 721.2L748.2 721.9L749.5 723.7L750.9 726.1L752.3 728.4L753.7 730.2L755.1 731.0L756.5 728.8L757.8 723.2L759.2 716.0L760.6 708.8L762 703.3L763.4 701.1L764.2 703.0L765.1 707.7L766 713.7L766.8 719.8L767.7 724.5L768.6 726.4L770.5 723.6L772.4 716.7L774.3 707.7L776.2 698.7L778.1 691.8L780 689.1L780.7 689.6L781.5 691.1L782.3 693.0L783 694.9L783.8 696.4L784.5 696.9L785.6 695.8L786.6 692.8L787.7 689.1L788.7 685.3L789.7 682.3L790.8 681.2L792.1 683.4L793.4 689.1L794.7 696.5L796 703.9L797.3 709.6L798.7 711.9L799.3 710.1L800 705.7L800.7 699.9L801.4 694.2L802.1 689.8L802.8 688.0L803.7 689.7L804.5 693.8L805.4 699.1L806.3 704.5L807.1 708.6L808 710.2L809 709.1L810.1 706.3L811.1 702.7L812.1 699.2L813.2 696.4L814.2 695.3L814.8 697.0L815.4 701.5L816 707.2L816.6 713.0L817.2 717.4L817.7 719.1L819.1 717.6L820.4 713.9L821.7 709.1L823 704.2L824.3 700.5L825.6 699.0L826.2 701.5L826.8 707.6L827.4 715.6L828 723.6L828.6 729.8L829.2 732.2L830.5 730.3L831.8 725.4L833.1 719.1L834.4 712.8L835.7 708.0L837 706.1L837.9 707.6L838.8 711.4L839.6 716.5L840.5 721.8L841.4 726.1L842.2 728.5L843.4 729.6L844.7 730.4L845.9 730.9L847.1 731.5L848.3 732.1L849.5 733.0L851.1 735.6L852.6 739.6L854.2 744.3L855.7 748.8L857.3 752.1L858.8 753.4L860.2 750.6L861.6 743.7L863 734.7L864.4 725.7L865.8 718.8L867.1 716.0L868.3 719.7L869.6 728.9L870.8 740.9L872 752.9L873.2 762.1L874.4 765.8L875.8 763.4L877.2 757.5L878.5 749.7L879.9 742.0L881.3 736.0L882.7 733.7L883.7 735.3L884.8 739.5L885.8 745.2L886.8 751.5L887.9 757.3L888.9 761.7L890.1 765.6L891.3 769.5L892.6 773.2L893.8 776.2L895 778.3L896.2 779.3L897.6 779.6L899 779.9L900.3 780.1L901.7 780.2L903.1 780.3L904.5 780.4L905.9 778.5L907.3 773.8L908.6 767.7L910 761.6L911.4 756.9L912.8 755.0L914.2 755.8L915.6 757.6L916.9 759.9L918.3 762.3L919.7 764.1L921.1 764.8L922.3 764.6L923.5 764.3L924.7 763.8L925.9 763.3L927.1 762.9L928.4 762.7L929.5 763.4L930.6 765.0L931.8 767.2L932.9 769.4L934.1 771.0L935.2 771.7L937.1 771.5L939 770.9L940.9 770.2L942.8 769.5L944.7 768.9L946.6 768.7L948.1 769.6L949.6 772.1L951.1 775.7L952.6 779.9L954 784.2L955.5 788.2L957.1 793.0L958.7 799.0L960.3 805.2L961.9 810.7L963.5 814.6L965.2 816.1L966.6 813.5L968 806.9L969.5 798.3L970.9 789.8L972.3 783.2L973.8 780.6L974.8 781.6L975.7 784.2L976.7 787.6L977.7 790.9L978.6 793.5L979.6 794.5L980.5 794.2L981.3 793.4L982.2 792.4L983 791.3L983.8 790.5L984.7 790.2L987 791.6L989.3 795.0L991.7 799.4L994 803.8L996.3 807.1L998.6 808.5L1000.1 808.3L1001.6 807.7L1003.1 807.0L1004.6 806.2L1006 805.7L1007.5 805.4L1008.9 805.5L1010.3 805.6L1011.7 805.7L1013.1 805.9L1014.5 806.2L1015.9 806.5L1017.5 808.5L1019 812.9L1020.6 818.5L1022.1 824.1L1023.7 828.4L1025.3 830.1L1026.2 829.4L1027.2 827.9L1028.2 825.9L1029.2 823.9L1030.1 822.3L1031.1 821.7L1032.5 822.4L1033.8 824.4L1035.2 827.3L1036.5 830.7L1037.9 834.3L1039.2 837.7L1040.3 840.7L1041.3 844.5L1042.4 848.4L1043.5 851.9L1044.5 854.5L1045.6 855.4L1046.8 854.5L1048.1 852.1L1049.4 849.1L1050.6 846.0L1051.9 843.7L1053.2 842.7L1054.7 843.0L1056.1 843.7L1057.6 844.6L1059.1 845.6L1060.6 846.3L1062.1 846.5L1063.8 846.4L1065.4 845.9L1067.1 845.1L1068.8 844.0L1070.5 842.8L1072.2 841.5L1073.5 839.6L1074.7 836.5L1076 832.8L1077.3 829.4L1078.5 826.8L1079.8 825.7L1080.6 827.7L1081.3 832.6L1082.1 839.1L1082.9 845.5L1083.6 850.4L1084.4 852.4L1085.9 851.1L1087.5 848.0L1089.1 843.8L1090.6 839.4L1092.2 835.6L1093.8 833.4L1096.1 831.6L1098.4 830.1L1100.7 828.8L1103.1 827.9L1105.4 827.2L1107.7 827.0L1109.8 828.7L1111.9 833.1L1114.1 838.7L1116.2 844.3L1118.3 848.6L1120.4 850.4L1122.1 849.7L1123.8 848.0L1125.5 845.9L1127.2 843.8L1128.9 842.1L1130.6 841.5L1131.8 842.0L1133.1 843.4L1134.4 845.3L1135.6 847.1L1136.9 848.5L1138.2 849.1L1139.9 847.9L1141.5 844.8L1143.2 840.8L1144.9 836.9L1146.6 833.8L1148.3 832.6L1150.4 833.9L1152.5 837.0L1154.7 841.1L1156.8 845.2L1158.9 848.3L1161 849.6L1162.7 849.5L1164.4 849.2L1166.1 848.7L1167.8 848.1L1169.5 847.3L1171.1 846.5L1173 844.8L1174.9 841.8L1176.8 838.2L1178.8 834.9L1180.7 832.3L1182.6 831.3L1184 832.7L1185.5 836.3L1187 840.8L1188.5 845.4L1190 848.9L1191.4 850.4L1192.5 849.1L1193.5 845.9L1194.6 841.9L1195.7 837.8L1196.7 834.6L1197.8 833.4L1199 833.8L1200.3 835.1L1201.6 836.8L1202.9 838.8L1204.1 840.6L1205.4 842.0L1207.1 843.5L1208.8 845.1L1210.5 846.6L1212.2 847.9L1213.8 848.8L1215.5 849.1L1217.6 847.9L1219.8 844.8L1221.9 840.8L1224 836.9L1226.1 833.8L1228.2 832.6L1230.5 833.2L1232.7 834.9L1234.9 837.3L1237.2 840.1L1239.4 842.9L1241.7 845.3"/>
<path class="g" d="M177.3 822.5L181.3 822.5L185.3 822.5L189.3 822.5L193.3 822.4L197.3 822.4L201.3 822.4L205.3 822.4L209.3 822.4L213.3 822.3L217.3 822.3L221.3 822.3L225.3 822.3L229.3 822.3L233.3 822.2L237.3 822.2L241.3 822.2L245.3 822.1L249.3 822.1L253.3 822.1L257.3 822.0L261.3 822.0L265.3 822.0L269.3 821.9L273.3 821.9L277.3 821.8L281.3 821.8L285.3 821.7L289.3 821.6L293.3 821.6L297.3 821.5L301.3 821.4L305.3 821.3L309.3 821.2L313.3 821.1L317.3 821.0L321.3 820.8L325.3 820.6L329.3 820.4L333.3 820.2L337.3 820.0L341.3 819.7L345.2 819.4L349.2 819.0L353.2 818.6L357.2 818.1L361.1 817.5L365.1 816.9L369 816.2L372.9 815.4L376.8 814.6L380.7 813.6L384.6 812.5L388.4 811.3L392.2 810.1L395.9 808.6L399.6 807.1L403.3 805.5L406.9 803.8L410.4 801.9L413.9 800.0L417.4 797.9L420.7 795.8L424.1 793.5L427.3 791.2L430.5 788.8L433.7 786.4L436.8 783.9L439.9 781.3L442.9 778.7L445.9 776.0L448.8 773.3L451.7 770.6L454.6 767.8L457.5 765.0L460.4 762.3L463.2 759.5L466.1 756.6L469 753.8L471.8 751.1L474.7 748.3L477.6 745.5L480.5 742.8L483.5 740.1L486.5 737.5L489.6 735.0L492.8 732.5L496 730.2L499.3 728.0L502.8 725.9L506.4 724.1L510.1 722.6L513.9 721.4L517.8 720.7L521.8 720.3L525.8 720.5L529.7 721.2L533.6 722.3L537.2 723.9L540.8 725.7L544.2 727.8L547.5 730.1L550.7 732.5L553.8 735.0L556.8 737.7L559.8 740.3L562.7 743.1L565.5 745.9L568.4 748.7L571.2 751.5L574 754.4L576.8 757.2L579.6 760.0L582.5 762.9L585.3 765.7L588.1 768.5L591 771.3L593.9 774.1L596.8 776.8L599.8 779.5L602.8 782.2L605.8 784.8L608.9 787.3L612 789.8L615.2 792.3L618.4 794.6L621.7 796.9L625 799.1L628.4 801.2L631.9 803.3L635.4 805.2L638.9 807.0L642.5 808.8L646.2 810.4L649.9 811.9L653.6 813.4L657.4 814.7L661.2 815.9L665 817.0L668.9 818.1L672.8 819.0L676.7 819.9L680.6 820.7L684.5 821.4L688.5 822.1L692.4 822.7L696.4 823.3L700.3 823.8L704.3 824.3L708.3 824.7L712.3 825.1L716.3 825.5L720.2 825.8L724.2 826.2L728.2 826.5L732.2 826.8L736.2 827.1L740.2 827.4L744.2 827.6L748.2 827.9L752.2 828.2L756.1 828.4L760.1 828.7L764.1 828.9L768.1 829.1L772.1 829.4L776.1 829.6L780.1 829.8L784.1 830.0L788.1 830.3L792.1 830.5L796.1 830.7L800.1 830.9L804.1 831.1L808.1 831.3L812.1 831.5L816.1 831.7L820 831.9L824 832.1L828 832.3L832 832.5L836 832.7L840 832.9L844 833.0L848 833.2L852 833.4L856 833.5L860 833.7L864 833.8L868 834.0L872 834.1L876 834.3L880 834.4L884 834.6L888 834.7L892 834.8L896 834.9L900 835.0L904 835.2L908 835.3L912 835.4L916 835.5L920 835.6L924 835.6L928 835.7L932 835.8L936 835.9L940 836.0L944 836.0L948 836.1L952 836.2L956 836.2L960 836.3L964 836.3L968 836.4L972 836.4L976 836.5L980 836.5L984 836.6L988 836.6L992 836.6L996 836.7L1000 836.7L1004 836.7L1008 836.7L1012 836.8L1016 836.8L1020 836.8L1024 836.8L1028 836.9L1032 836.9L1036 836.9L1040 836.9L1044 836.9L1048 836.9L1052 836.9L1056 837.0L1060 837.0L1064 837.0L1068 837.0L1072 837.0L1076 837.0L1080 837.0L1084 837.0L1088 837.0L1092 837.0L1096 837.0L1100 837.0L1104 837.0L1108 837.0L1112 837.0L1116 837.0L1120 837.0L1124 837.1L1128 837.1L1132 837.1L1136 837.1L1140 837.1L1144 837.1L1148 837.1L1152 837.1L1156 837.1L1160 837.1L1164 837.1L1168 837.1L1172 837.1L1176 837.1L1180 837.1L1184 837.1L1188 837.1L1192 837.1L1196 837.1L1200 837.1L1204 837.1L1208 837.1L1212 837.1L1216 837.1L1220 837.1L1224 837.1L1228 837.1L1232 837.1L1236 837.1L1240 837.1L1242.6 837.1"/>
<path class="g" d="M177.3 822.4L181.3 822.4L185.3 822.3L189.3 822.3L193.3 822.3L197.3 822.3L201.3 822.3L205.3 822.3L209.3 822.3L213.3 822.2L217.3 822.2L221.3 822.2L225.3 822.2L229.3 822.2L233.3 822.1L237.3 822.1L241.3 822.1L245.3 822.1L249.3 822.1L253.3 822.0L257.3 822.0L261.3 822.0L265.3 822.0L269.3 821.9L273.3 821.9L277.3 821.9L281.3 821.9L285.3 821.8L289.3 821.8L293.3 821.8L297.3 821.7L301.3 821.7L305.3 821.7L309.3 821.6L313.3 821.6L317.3 821.6L321.3 821.5L325.3 821.5L329.3 821.5L333.3 821.4L337.3 821.4L341.3 821.3L345.3 821.3L349.3 821.3L353.3 821.2L357.3 821.2L361.3 821.1L365.3 821.1L369.3 821.0L373.3 821.0L377.3 820.9L381.3 820.9L385.3 820.8L389.3 820.8L393.3 820.7L397.3 820.7L401.3 820.6L405.3 820.6L409.3 820.5L413.3 820.5L417.3 820.4L421.3 820.4L425.3 820.3L429.3 820.2L433.3 820.2L437.3 820.1L441.3 820.1L445.3 820.0L449.3 820.0L453.3 819.9L457.3 819.9L461.3 819.8L465.3 819.8L469.3 819.7L473.3 819.7L477.3 819.6L481.3 819.5L485.3 819.5L489.3 819.4L493.3 819.3L497.3 819.3L501.3 819.2L505.3 819.1L509.3 819.0L513.3 818.9L517.3 818.7L521.3 818.6L525.3 818.4L529.3 818.3L533.3 818.1L537.3 817.8L541.2 817.6L545.2 817.3L549.2 817.1L553.2 816.7L557.2 816.4L561.2 816.0L565.2 815.6L569.1 815.1L573.1 814.6L577.1 814.0L581 813.5L585 812.8L588.9 812.1L592.8 811.4L596.8 810.6L600.7 809.7L604.6 808.8L608.4 807.9L612.3 806.8L616.2 805.8L620 804.6L623.8 803.4L627.6 802.1L631.4 800.8L635.1 799.4L638.8 797.9L642.5 796.4L646.2 794.8L649.9 793.2L653.5 791.5L657.1 789.7L660.6 787.9L664.2 786.0L667.7 784.1L671.1 782.1L674.6 780.1L678 778.0L681.4 775.9L684.8 773.7L688.1 771.6L691.4 769.3L694.7 767.1L698 764.8L701.3 762.4L704.5 760.1L707.7 757.7L710.9 755.3L714.1 752.9L717.3 750.5L720.5 748.1L723.7 745.6L726.9 743.2L730 740.8L733.2 738.4L736.4 735.9L739.6 733.5L742.8 731.2L746.1 728.8L749.3 726.5L752.6 724.3L756 722.1L759.4 719.9L762.8 717.9L766.3 715.9L769.8 714.1L773.5 712.4L777.2 710.9L780.9 709.6L784.8 708.5L788.7 707.6L792.6 707.0L796.6 706.7L800.6 706.8L804.6 707.0L808.6 707.5L812.6 708.1L816.5 708.9L820.4 709.8L824.2 711.0L828 712.2L831.7 713.6L835.4 715.1L839.1 716.8L842.7 718.5L846.3 720.3L849.8 722.2L853.3 724.2L856.7 726.2L860.1 728.3L863.5 730.5L866.8 732.7L870.1 735.0L873.4 737.2L876.7 739.6L879.9 741.9L883.1 744.3L886.3 746.6L889.5 749.0L892.7 751.4L895.9 753.9L899.1 756.3L902.3 758.7L905.5 761.1L908.7 763.6L911.8 766.0L915 768.4L918.2 770.8L921.5 773.1L924.7 775.5L927.9 777.9L931.2 780.2L934.5 782.5L937.8 784.7L941.1 787.0L944.4 789.2L947.8 791.4L951.1 793.5L954.5 795.6L958 797.7L961.4 799.7L964.9 801.6L968.4 803.5L972 805.4L975.6 807.2L979.1 808.9L982.8 810.6L986.4 812.3L990.1 813.8L993.8 815.4L997.5 816.8L1001.3 818.2L1005.1 819.5L1008.9 820.8L1012.7 822.0L1016.5 823.1L1020.4 824.2L1024.2 825.2L1028.1 826.1L1032 827.0L1035.9 827.8L1039.9 828.6L1043.8 829.3L1047.7 830.0L1051.7 830.7L1055.6 831.2L1059.6 831.8L1063.6 832.3L1067.6 832.7L1071.5 833.1L1075.5 833.5L1079.5 833.9L1083.5 834.2L1087.5 834.5L1091.5 834.8L1095.5 835.0L1099.4 835.2L1103.4 835.4L1107.4 835.6L1111.4 835.8L1115.4 835.9L1119.4 836.1L1123.4 836.2L1127.4 836.3L1131.4 836.4L1135.4 836.5L1139.4 836.5L1143.4 836.6L1147.4 836.7L1151.4 836.7L1155.4 836.8L1159.4 836.8L1163.4 836.8L1167.4 836.9L1171.4 836.9L1175.4 836.9L1179.4 836.9L1183.4 837.0L1187.4 837.0L1191.4 837.0L1195.4 837.0L1199.4 837.0L1203.4 837.0L1207.4 837.0L1211.4 837.0L1215.4 837.1L1219.4 837.1L1223.4 837.1L1227.4 837.1L1231.4 837.1L1235.4 837.1L1239.4 837.1L1242.6 837.1"/>
<path class="b" d="M177.3 822.8L185.3 822.9L193.3 822.9L201.3 822.9L209.3 822.9L217.3 822.9L225.3 822.9L233.3 822.9L241.3 822.9L249.3 822.9L257.3 822.9L265.3 822.9L273.3 822.9L281.3 822.9L289.3 822.9L297.3 822.9L305.3 822.9L313.3 822.9L321.3 822.9L329.3 822.9L337.3 822.9L345.3 823.0L353.3 823.0L361.3 823.0L369.3 823.0L377.3 823.0L385.3 823.1L393.3 823.1L401.3 823.1L409.3 823.2L417.3 823.2L425.3 823.3L433.3 823.4L441.3 823.5L449.3 823.6L457.3 823.7L465.3 823.9L473.3 824.1L481.3 824.3L489.3 824.5L497.3 824.7L505.3 825.0L513.3 825.2L521.3 825.5L529.3 825.7L537.3 826.0L545.3 826.2L553.3 826.5L561.3 826.7L569.2 826.9L577.2 827.1L585.2 827.3L593.2 827.5L601.2 827.6L609.2 827.8L617.2 827.9L625.2 828.0L633.2 828.2L641.2 828.3L649.2 828.4L657.2 828.5L665.2 828.7L673.2 828.8L681.2 828.9L689.2 829.1L697.2 829.2L705.2 829.4L713.2 829.6L721.2 829.8L729.2 830.0L737.2 830.2L745.2 830.4L753.2 830.7L761.2 830.9L769.2 831.2L777.2 831.5L785.2 831.8L793.2 832.1L801.2 832.4L809.2 832.7L817.2 833.0L825.2 833.3L833.2 833.5L841.2 833.8L849.1 834.1L857.1 834.3L865.1 834.6L873.1 834.8L881.1 835.0L889.1 835.3L897.1 835.5L905.1 835.6L913.1 835.8L921.1 836.0L929.1 836.1L937.1 836.2L945.1 836.3L953.1 836.4L961.1 836.5L969.1 836.6L977.1 836.7L985.1 836.8L993.1 836.8L1001.1 836.9L1009.1 836.9L1017.1 836.9L1025.1 837.0L1033.1 837.0L1041.1 837.0L1049.1 837.0L1057.1 837.0L1065.1 837.0L1073.1 837.1L1081.1 837.1L1089.1 837.1L1097.1 837.1L1105.1 837.1L1113.1 837.1L1121.1 837.1L1129.1 837.1L1137.1 837.1L1145.1 837.1L1153.1 837.1L1161.1 837.1L1169.1 837.1L1177.1 837.1L1185.1 837.1L1193.1 837.1L1201.1 837.1L1209.1 837.1L1217.1 837.1L1225.1 837.1L1233.1 837.1L1241.1 837.1L1242.6 837.1"/>
<path class="r" d="M177.3 822.0L181.3 822.0L185.3 822.0L189.3 821.9L193.3 821.9L197.3 821.9L201.3 821.8L205.3 821.8L209.3 821.8L213.3 821.7L217.3 821.7L221.3 821.6L225.3 821.6L229.3 821.6L233.3 821.5L237.3 821.5L241.3 821.4L245.3 821.4L249.3 821.3L253.3 821.2L257.3 821.2L261.3 821.1L265.3 821.0L269.3 821.0L273.3 820.9L277.3 820.8L281.3 820.7L285.3 820.7L289.3 820.6L293.3 820.5L297.3 820.3L301.3 820.2L305.3 820.1L309.3 820.0L313.3 819.8L317.3 819.6L321.3 819.4L325.3 819.2L329.3 819.0L333.2 818.7L337.2 818.4L341.2 818.1L345.2 817.7L349.2 817.3L353.2 816.8L357.1 816.3L361.1 815.7L365 815.0L368.9 814.3L372.9 813.4L376.7 812.5L380.6 811.5L384.5 810.3L388.3 809.1L392 807.8L395.8 806.3L399.4 804.8L403.1 803.1L406.6 801.3L410.2 799.4L413.6 797.4L417 795.3L420.4 793.1L423.7 790.8L426.9 788.5L430.1 786.1L433.2 783.6L436.3 781.0L439.3 778.4L442.3 775.7L445.3 773.0L448.2 770.3L451.1 767.5L453.9 764.7L456.8 761.9L459.6 759.1L462.4 756.2L465.2 753.4L468 750.5L470.8 747.7L473.6 744.9L476.5 742.0L479.3 739.2L482.2 736.5L485.2 733.8L488.2 731.1L491.2 728.5L494.3 726.0L497.5 723.6L500.9 721.4L504.3 719.3L507.8 717.5L511.5 715.9L515.3 714.6L519.2 713.8L523.2 713.3L527.2 713.4L531.1 713.9L535 715.0L538.7 716.3L542.4 718.0L545.9 720.0L549.3 722.1L552.6 724.3L555.8 726.7L558.9 729.2L562.1 731.7L565.1 734.2L568.2 736.8L571.2 739.4L574.3 742.0L577.3 744.6L580.4 747.2L583.5 749.7L586.6 752.2L589.8 754.7L592.9 757.1L596.2 759.4L599.5 761.7L602.9 763.8L606.3 765.9L609.8 767.8L613.4 769.6L617 771.2L620.8 772.7L624.6 773.9L628.4 775.0L632.3 775.8L636.3 776.4L640.3 776.8L644.3 776.9L648.3 776.8L652.2 776.5L656.2 775.9L660.1 775.2L664 774.2L667.9 773.1L671.7 771.8L675.4 770.4L679.1 768.9L682.7 767.2L686.3 765.5L689.9 763.6L693.4 761.7L696.8 759.7L700.3 757.6L703.7 755.5L707 753.4L710.4 751.2L713.7 748.9L717 746.6L720.3 744.4L723.5 742.0L726.8 739.7L730 737.4L733.3 735.1L736.5 732.8L739.8 730.4L743.1 728.2L746.4 725.9L749.7 723.7L753.1 721.5L756.5 719.4L759.9 717.3L763.4 715.4L766.9 713.5L770.5 711.8L774.2 710.2L778 708.8L781.8 707.6L785.6 706.6L789.6 705.9L793.5 705.4L797.5 705.2L801.5 705.4L805.5 705.8L809.5 706.3L813.4 707.0L817.3 707.9L821.2 708.9L825 710.1L828.8 711.5L832.5 712.9L836.2 714.5L839.8 716.2L843.4 718.0L846.9 719.8L850.4 721.8L853.9 723.8L857.3 725.8L860.7 728.0L864 730.2L867.4 732.4L870.6 734.7L873.9 737.0L877.2 739.3L880.4 741.7L883.6 744.0L886.8 746.4L890 748.8L893.2 751.3L896.4 753.7L899.5 756.1L902.7 758.6L905.9 761.0L909.1 763.4L912.3 765.9L915.4 768.3L918.6 770.7L921.8 773.1L925.1 775.4L928.3 777.8L931.6 780.1L934.8 782.4L938.1 784.7L941.4 786.9L944.8 789.1L948.1 791.3L951.5 793.5L954.9 795.6L958.3 797.6L961.8 799.6L965.3 801.6L968.8 803.5L972.3 805.4L975.9 807.2L979.5 808.9L983.1 810.6L986.8 812.2L990.5 813.8L994.2 815.3L997.9 816.8L1001.6 818.2L1005.4 819.5L1009.2 820.7L1013 821.9L1016.9 823.1L1020.7 824.1L1024.6 825.1L1028.5 826.1L1032.4 827.0L1036.3 827.8L1040.2 828.6L1044.1 829.3L1048.1 830.0L1052 830.6L1056 831.2L1060 831.7L1063.9 832.2L1067.9 832.7L1071.9 833.1L1075.9 833.5L1079.8 833.8L1083.8 834.2L1087.8 834.5L1091.8 834.7L1095.8 835.0L1099.8 835.2L1103.8 835.4L1107.8 835.6L1111.8 835.7L1115.8 835.9L1119.8 836.0L1123.8 836.1L1127.8 836.3L1131.8 836.3L1135.8 836.4L1139.8 836.5L1143.8 836.6L1147.8 836.6L1151.8 836.7L1155.8 836.7L1159.8 836.8L1163.8 836.8L1167.8 836.9L1171.8 836.9L1175.8 836.9L1179.8 836.9L1183.8 837.0L1187.8 837.0L1191.8 837.0L1195.8 837.0L1199.8 837.0L1203.8 837.0L1207.8 837.0L1211.8 837.0L1215.8 837.0L1219.8 837.0L1223.8 837.1L1227.8 837.1L1231.8 837.1L1235.8 837.1L1239.8 837.1L1242.6 837.1"/>
<path class="d" d="M177.5 1269.1L178.6 1263.2L179.8 1256.4L181 1249.7L182.2 1243.8L183.3 1239.6L184.5 1238.0L185.4 1238.1L186.3 1238.5L187.1 1239.0L188 1239.5L188.8 1239.9L189.7 1240.1L190.8 1239.8L191.8 1239.0L192.8 1238.0L193.9 1237.0L194.9 1236.2L195.9 1235.9L197.1 1236.2L198.4 1237.0L199.6 1238.2L200.8 1239.7L202 1241.4L203.2 1243.2L204.2 1245.5L205.3 1248.8L206.3 1252.6L207.4 1256.2L208.4 1258.8L209.4 1259.8L210.3 1258.4L211.2 1254.9L212 1250.4L212.9 1246.0L213.8 1242.5L214.6 1241.1L216 1242.1L217.4 1244.6L218.8 1247.9L220.1 1251.1L221.5 1253.6L222.9 1254.6L224.2 1253.4L225.5 1250.6L226.8 1246.8L228 1243.1L229.3 1240.2L230.6 1239.0L231.9 1240.4L233.2 1243.8L234.5 1248.2L235.9 1252.6L237.2 1255.9L238.5 1257.3L239.9 1257.2L241.2 1257.1L242.6 1256.8L244 1256.5L245.4 1256.1L246.8 1255.6L248.5 1254.3L250.2 1251.9L252 1249.0L253.7 1246.2L255.4 1244.0L257.2 1243.2L259.2 1244.3L261.2 1247.1L263.2 1250.7L265.2 1254.3L267.2 1257.0L269.2 1258.1L270.6 1255.9L272.1 1250.5L273.5 1243.2L275 1235.9L276.5 1229.9L277.9 1227.0L278.9 1226.4L279.8 1225.9L280.8 1225.5L281.8 1225.2L282.7 1225.0L283.7 1224.9L284.5 1225.6L285.4 1227.2L286.2 1229.4L287 1231.5L287.9 1233.2L288.7 1233.8L289.8 1233.5L291 1232.8L292.1 1231.8L293.3 1230.8L294.4 1230.0L295.5 1229.7L297.3 1230.8L299 1233.7L300.7 1237.5L302.5 1241.2L304.2 1244.1L305.9 1245.3L307.9 1243.3L309.9 1238.4L311.8 1232.0L313.8 1225.6L315.8 1220.7L317.7 1218.7L319.4 1220.0L321.1 1223.2L322.7 1227.3L324.4 1231.5L326 1234.6L327.7 1235.9L329.3 1235.1L330.8 1233.0L332.4 1230.2L333.9 1227.5L335.5 1225.4L337 1224.5L338.6 1225.9L340.2 1229.3L341.7 1233.8L343.3 1238.3L344.8 1241.8L346.4 1243.2L347.9 1241.7L349.5 1238.1L351.1 1233.3L352.6 1228.6L354.2 1224.9L355.7 1223.5L357.1 1224.9L358.5 1228.3L359.9 1232.8L361.3 1237.3L362.6 1240.8L364 1242.1L365.1 1241.3L366.1 1239.2L367.1 1236.4L368.2 1233.3L369.2 1230.6L370.2 1228.7L371.5 1227.2L372.7 1225.7L373.9 1224.4L375.1 1223.4L376.3 1222.7L377.5 1222.4L378.9 1223.0L380.3 1224.3L381.7 1226.1L383 1227.8L384.4 1229.2L385.8 1229.7L387.2 1227.1L388.6 1220.5L390 1212.1L391.3 1203.6L392.7 1197.0L394.1 1194.4L395.3 1196.8L396.5 1202.9L397.7 1210.7L399 1218.6L400.2 1224.6L401.4 1227.0L402.6 1225.3L403.8 1221.0L405 1215.4L406.2 1209.8L407.4 1205.5L408.6 1203.8L410.2 1205.1L411.8 1208.6L413.3 1213.1L414.9 1217.6L416.4 1221.0L418 1222.4L419 1219.0L420.1 1210.5L421.1 1199.4L422.1 1188.3L423.2 1179.8L424.2 1176.4L425.4 1178.4L426.6 1183.5L427.8 1190.1L429 1196.7L430.2 1201.7L431.4 1203.8L433.1 1201.5L434.9 1196.0L436.6 1188.7L438.3 1181.5L440.1 1175.9L441.8 1173.7L442.5 1173.9L443.2 1174.6L443.9 1175.4L444.6 1176.3L445.2 1176.9L445.9 1177.2L446.8 1176.5L447.7 1174.7L448.5 1172.3L449.4 1170.0L450.3 1168.2L451.1 1167.4L451.8 1169.3L452.5 1173.9L453.2 1179.9L453.9 1185.9L454.6 1190.5L455.3 1192.3L457.1 1189.4L458.9 1182.1L460.7 1172.6L462.5 1163.1L464.3 1155.8L466.1 1152.9L467.2 1153.8L468.4 1156.0L469.5 1158.8L470.6 1161.7L471.8 1163.9L472.9 1164.7L474.3 1162.8L475.7 1158.0L477.1 1151.8L478.4 1145.5L479.8 1140.7L481.2 1138.8L482.1 1140.0L483.1 1142.8L484 1146.6L485 1150.3L485.9 1153.2L486.8 1154.4L487.4 1153.8L487.9 1152.5L488.5 1150.8L489 1149.1L489.6 1147.8L490.1 1147.3L490.6 1150.2L491.1 1157.4L491.6 1166.7L492.1 1176.1L492.6 1183.2L493 1186.1L493.9 1184.1L494.8 1179.0L495.7 1172.3L496.6 1165.7L497.5 1160.6L498.4 1158.5L499.2 1158.8L500 1159.6L500.7 1160.6L501.5 1161.6L502.2 1162.4L503 1162.7L504.4 1160.9L505.8 1156.5L507.2 1150.7L508.5 1145.0L509.9 1140.6L511.3 1138.8L513.2 1141.7L515.1 1148.9L517 1158.3L518.9 1167.7L520.8 1174.9L522.7 1177.8L524.1 1176.9L525.5 1174.6L526.9 1171.6L528.3 1168.6L529.6 1166.3L531 1165.4L532.9 1168.3L534.8 1175.6L536.7 1185.1L538.6 1194.6L540.5 1201.9L542.4 1204.8L544 1202.4L545.5 1196.5L547.1 1188.7L548.7 1181.0L550.2 1175.0L551.8 1172.6L553.3 1175.0L554.9 1181.0L556.4 1188.7L558 1196.5L559.6 1202.4L561.1 1204.8L562.1 1204.3L563.2 1202.9L564.2 1201.2L565.3 1199.4L566.3 1198.1L567.3 1197.5L568.4 1198.3L569.4 1200.3L570.4 1202.9L571.5 1205.5L572.5 1207.5L573.6 1208.3L576 1206.8L578.4 1202.8L580.8 1197.7L583.2 1192.6L585.7 1188.7L588.1 1187.2L589.5 1189.1L590.9 1193.9L592.2 1200.1L593.6 1206.4L595 1211.2L596.4 1213.1L597.6 1210.8L598.8 1205.2L600 1197.8L601.2 1190.5L602.4 1184.8L603.6 1182.6L604.9 1185.6L606.1 1193.0L607.3 1202.7L608.5 1212.4L609.7 1219.9L610.9 1222.8L611.9 1221.7L613 1218.7L614 1214.9L615.1 1211.0L616.1 1208.1L617.1 1206.9L619.2 1208.3L621.3 1212.0L623.4 1216.7L625.4 1221.5L627.5 1225.1L629.6 1226.6L630.8 1225.7L632 1223.6L633.2 1220.9L634.4 1218.1L635.6 1216.0L636.8 1215.2L638.2 1216.4L639.6 1219.5L641 1223.5L642.4 1227.5L643.8 1230.5L645.2 1231.8L646.4 1229.1L647.6 1222.4L648.8 1213.6L650 1204.9L651.2 1198.1L652.4 1195.5L654.3 1197.5L656.2 1202.7L658.1 1209.5L660 1216.2L661.9 1221.4L663.8 1223.5L664.5 1222.0L665.2 1218.4L665.9 1213.6L666.6 1208.9L667.3 1205.2L668 1203.8L669.2 1205.1L670.4 1208.3L671.6 1212.6L672.8 1216.8L674 1220.1L675.2 1221.4L677.1 1218.1L679 1209.8L680.9 1199.1L682.8 1188.3L684.7 1180.1L686.6 1176.8L687.3 1178.6L688 1183.2L688.7 1189.2L689.4 1195.2L690.1 1199.8L690.8 1201.7L692.5 1199.8L694.2 1195.0L695.9 1188.7L697.7 1182.5L699.4 1177.7L701.1 1175.7L702.3 1176.9L703.5 1179.9L704.8 1183.7L706 1187.6L707.2 1190.5L708.4 1191.7L709.4 1190.2L710.5 1186.3L711.5 1181.1L712.5 1175.7L713.6 1171.2L714.6 1168.5L716.7 1165.8L718.8 1163.6L720.8 1161.7L722.9 1160.3L725 1159.4L727.1 1159.1L728.6 1160.5L730.2 1164.0L731.7 1168.5L733.3 1173.0L734.8 1176.4L736.4 1177.8L737.5 1176.1L738.6 1171.7L739.7 1165.9L740.8 1159.9L741.9 1155.0L743 1152.3L744.4 1151.0L745.7 1149.9L747 1149.0L748.3 1148.3L749.6 1147.9L750.9 1147.7L751.8 1149.0L752.7 1152.0L753.5 1156.0L754.4 1160.0L755.3 1163.1L756.1 1164.3L757.2 1162.1L758.2 1156.7L759.2 1149.6L760.3 1142.5L761.3 1137.0L762.3 1134.9L763.7 1137.4L765.1 1143.7L766.5 1151.9L767.9 1160.1L769.3 1166.4L770.6 1168.9L771.9 1168.6L773.1 1167.7L774.3 1166.3L775.5 1164.6L776.7 1162.6L777.9 1160.6L779.1 1157.4L780.3 1152.5L781.5 1146.9L782.7 1141.7L784 1137.8L785.2 1136.3L786.7 1137.0L788.3 1138.7L789.8 1141.1L791.4 1143.8L793 1146.2L794.5 1148.1L795.2 1148.8L795.9 1149.6L796.6 1150.2L797.3 1150.8L798 1151.3L798.7 1151.5L799.9 1151.6L801.1 1151.6L802.3 1151.7L803.5 1151.7L804.7 1151.8L805.9 1151.9L806.8 1152.7L807.6 1154.8L808.5 1157.3L809.4 1159.9L810.2 1161.9L811.1 1162.7L812.1 1162.4L813.2 1161.8L814.2 1160.9L815.3 1160.1L816.3 1159.4L817.3 1159.1L818.4 1161.4L819.4 1167.2L820.4 1174.7L821.5 1182.2L822.5 1188.0L823.6 1190.3L824.4 1188.8L825.3 1185.0L826.2 1180.2L827 1175.4L827.9 1171.6L828.7 1170.1L830 1171.7L831.2 1175.7L832.4 1181.0L833.6 1186.4L834.8 1190.9L836 1193.4L837.4 1194.4L838.8 1195.0L840.2 1195.5L841.5 1196.0L842.9 1196.6L844.3 1197.5L845.9 1200.2L847.4 1204.9L849 1210.4L850.5 1215.8L852.1 1219.8L853.6 1221.4L854.5 1219.5L855.4 1214.8L856.2 1208.6L857.1 1202.1L858 1196.6L858.8 1193.4L860 1191.3L861.3 1189.4L862.5 1187.9L863.7 1186.7L864.9 1186.0L866.1 1185.7L867.1 1188.5L868.2 1195.5L869.2 1204.6L870.2 1213.7L871.3 1220.7L872.3 1223.5L873.7 1222.7L875.1 1220.8L876.5 1218.3L877.9 1215.8L879.2 1213.9L880.6 1213.1L881.3 1215.2L882 1220.4L882.7 1227.1L883.4 1233.8L884.1 1239.0L884.8 1241.1L886.1 1238.3L887.3 1231.2L888.6 1221.9L889.9 1212.7L891.2 1205.6L892.5 1202.7L894.1 1206.5L895.8 1215.9L897.4 1228.1L899.1 1240.4L900.8 1249.8L902.4 1253.6L903.3 1252.9L904.3 1251.4L905.2 1249.4L906.1 1247.4L907.1 1245.9L908 1245.3L909 1246.0L910 1247.7L910.9 1249.9L911.9 1252.2L912.9 1253.9L913.8 1254.6L914.7 1252.2L915.6 1246.3L916.4 1238.5L917.3 1230.8L918.1 1224.8L919 1222.4L920.4 1223.0L921.8 1224.6L923.2 1226.7L924.5 1229.0L925.9 1231.2L927.3 1232.8L929.1 1234.4L930.8 1236.0L932.5 1237.5L934.3 1238.8L936 1239.7L937.8 1240.1L939.9 1240.3L942 1240.4L944.1 1240.5L946.2 1240.6L948.3 1240.7L950.4 1240.9L952.3 1242.0L954.2 1244.5L956.1 1247.6L958.1 1250.8L960 1253.1L961.9 1254.1L963.3 1254.0L964.8 1253.7L966.3 1253.2L967.8 1252.6L969.3 1251.9L970.7 1251.0L972.2 1248.9L973.7 1244.8L975.2 1239.8L976.7 1235.0L978.1 1231.4L979.6 1230.0L981.5 1232.8L983.4 1239.7L985.3 1248.7L987.2 1257.8L989.1 1264.7L991 1267.5L992.3 1265.4L993.6 1260.0L994.8 1252.9L996.1 1245.9L997.4 1240.5L998.6 1238.3L1000.3 1238.9L1002 1240.3L1003.7 1242.4L1005.4 1244.9L1007.1 1247.7L1008.8 1250.5L1010.9 1255.4L1013 1262.3L1015.1 1269.8L1017.2 1276.9L1019.4 1282.0L1021.5 1284.0L1022.7 1281.8L1024 1276.2L1025.3 1268.8L1026.5 1261.2L1027.8 1254.9L1029.1 1251.5L1031 1249.6L1032.9 1247.9L1034.8 1246.5L1036.7 1245.5L1038.6 1244.9L1040.5 1244.7L1042.4 1246.2L1044.3 1249.9L1046.2 1254.8L1048.1 1259.7L1050 1263.5L1051.9 1265.0L1053.1 1264.7L1054.3 1264.1L1055.5 1263.3L1056.6 1262.5L1057.8 1261.9L1059 1261.7L1060.8 1262.7L1062.6 1265.2L1064.3 1268.4L1066.1 1271.6L1067.9 1274.1L1069.7 1275.1L1071.2 1273.1L1072.6 1267.9L1074.1 1261.2L1075.6 1254.5L1077.1 1249.3L1078.5 1247.2L1079.8 1247.9L1081.1 1249.7L1082.4 1251.9L1083.6 1254.2L1084.9 1255.9L1086.2 1256.6L1087.4 1256.1L1088.7 1254.8L1090 1253.2L1091.2 1251.5L1092.5 1250.3L1093.8 1249.8L1095.7 1251.1L1097.6 1254.4L1099.5 1258.6L1101.4 1262.9L1103.3 1266.2L1105.2 1267.5L1106.5 1265.9L1107.7 1261.8L1109 1256.5L1110.3 1251.2L1111.5 1247.1L1112.8 1245.4L1114.9 1247.4L1117 1252.3L1119.1 1258.6L1121.3 1265.0L1123.4 1269.9L1125.5 1271.8L1127.2 1271.5L1128.9 1270.5L1130.6 1269.2L1132.2 1267.5L1133.9 1265.8L1135.6 1264.2L1137.4 1262.2L1139.3 1259.7L1141.1 1257.0L1142.9 1254.7L1144.7 1253.0L1146.5 1252.3L1148.3 1253.4L1150.1 1256.2L1151.9 1259.9L1153.6 1263.6L1155.4 1266.4L1157.2 1267.5L1158.2 1266.7L1159.1 1264.8L1160.1 1262.2L1161.1 1259.6L1162.1 1257.7L1163 1256.9L1163.9 1257.7L1164.7 1259.7L1165.6 1262.5L1166.4 1265.5L1167.3 1268.2L1168.1 1270.1L1170.1 1273.0L1172.1 1275.7L1174.1 1278.0L1176 1279.8L1178 1281.0L1180 1281.5L1180.9 1279.4L1181.7 1274.2L1182.6 1267.5L1183.4 1260.8L1184.2 1255.6L1185.1 1253.6L1186.5 1253.8L1187.9 1254.4L1189.3 1255.1L1190.7 1255.8L1192.1 1256.4L1193.5 1256.6L1195.9 1256.0L1198.3 1254.5L1200.7 1252.6L1203.1 1250.6L1205.5 1249.1L1207.9 1248.5L1209.2 1248.5L1210.5 1248.7L1211.7 1248.9L1213 1249.3L1214.3 1249.7L1215.5 1250.3L1216.4 1251.8L1217.2 1255.1L1218.1 1259.2L1218.9 1263.2L1219.8 1266.3L1220.6 1267.5L1221.7 1266.7L1222.7 1264.6L1223.8 1261.8L1224.8 1259.1L1225.9 1256.9L1227 1256.1L1228.9 1257.9L1230.8 1262.4L1232.7 1268.2L1234.6 1274.0L1236.5 1278.4L1238.4 1280.2L1239 1280.0L1239.6 1279.4L1240.3 1278.6L1240.9 1277.6L1241.5 1276.7L1242.2 1275.9"/>
<path class="g" d="M177.3 1249.2L181.3 1249.2L185.3 1249.1L189.3 1249.1L193.3 1249.0L197.3 1249.0L201.3 1248.9L205.3 1248.9L209.3 1248.8L213.3 1248.8L217.3 1248.7L221.3 1248.7L225.3 1248.6L229.3 1248.5L233.3 1248.4L237.3 1248.4L241.3 1248.3L245.3 1248.2L249.3 1248.1L253.3 1248.0L257.3 1247.8L261.3 1247.7L265.3 1247.6L269.3 1247.4L273.3 1247.2L277.3 1247.0L281.3 1246.8L285.3 1246.6L289.2 1246.3L293.2 1246.0L297.2 1245.7L301.2 1245.3L305.2 1245.0L309.2 1244.5L313.1 1244.1L317.1 1243.5L321.1 1243.0L325 1242.3L329 1241.7L332.9 1240.9L336.8 1240.1L340.7 1239.2L344.6 1238.3L348.5 1237.2L352.3 1236.1L356.1 1234.9L359.9 1233.7L363.7 1232.3L367.4 1230.9L371.1 1229.4L374.8 1227.8L378.4 1226.2L382.1 1224.5L385.6 1222.7L389.2 1220.8L392.7 1218.9L396.2 1216.9L399.6 1214.9L403 1212.8L406.4 1210.7L409.8 1208.5L413.1 1206.3L416.4 1204.1L419.7 1201.8L423 1199.5L426.3 1197.2L429.6 1194.9L432.8 1192.6L436.1 1190.3L439.4 1188.0L442.7 1185.7L446 1183.5L449.3 1181.3L452.6 1179.1L456 1177.0L459.5 1174.9L463 1173.0L466.5 1171.2L470.1 1169.4L473.8 1167.9L477.6 1166.5L481.4 1165.4L485.3 1164.5L489.3 1163.9L493.3 1163.6L497.3 1163.6L501.2 1163.9L505.2 1164.6L509.1 1165.6L512.9 1166.8L516.6 1168.3L520.2 1169.9L523.8 1171.7L527.3 1173.7L530.7 1175.7L534.1 1177.8L537.5 1180.0L540.8 1182.3L544.1 1184.6L547.3 1186.9L550.6 1189.2L553.8 1191.6L557.1 1193.9L560.3 1196.3L563.5 1198.6L566.8 1200.9L570.1 1203.2L573.3 1205.5L576.7 1207.8L580 1210.0L583.3 1212.2L586.7 1214.3L590.1 1216.4L593.6 1218.5L597 1220.4L600.5 1222.4L604.1 1224.3L607.6 1226.1L611.2 1227.8L614.8 1229.5L618.5 1231.1L622.2 1232.7L625.9 1234.2L629.6 1235.6L633.4 1236.9L637.2 1238.2L641 1239.4L644.9 1240.5L648.7 1241.6L652.6 1242.6L656.5 1243.5L660.4 1244.4L664.3 1245.2L668.2 1246.0L672.2 1246.7L676.1 1247.4L680.1 1248.0L684 1248.6L688 1249.1L691.9 1249.7L695.9 1250.2L699.9 1250.6L703.9 1251.1L707.8 1251.5L711.8 1251.9L715.8 1252.2L719.8 1252.6L723.8 1253.0L727.7 1253.3L731.7 1253.6L735.7 1253.9L739.7 1254.2L743.7 1254.5L747.7 1254.8L751.7 1255.1L755.7 1255.3L759.7 1255.6L763.7 1255.9L767.6 1256.1L771.6 1256.4L775.6 1256.6L779.6 1256.8L783.6 1257.1L787.6 1257.3L791.6 1257.5L795.6 1257.7L799.6 1257.9L803.6 1258.1L807.6 1258.3L811.6 1258.5L815.6 1258.7L819.6 1258.8L823.6 1259.0L827.6 1259.2L831.6 1259.3L835.6 1259.5L839.6 1259.6L843.6 1259.8L847.6 1259.9L851.6 1260.0L855.6 1260.1L859.5 1260.3L863.5 1260.4L867.5 1260.5L871.5 1260.6L875.5 1260.7L879.5 1260.8L883.5 1260.9L887.5 1261.0L891.5 1261.0L895.5 1261.1L899.5 1261.2L903.5 1261.3L907.5 1261.3L911.5 1261.4L915.5 1261.5L919.5 1261.5L923.5 1261.6L927.5 1261.6L931.5 1261.7L935.5 1261.7L939.5 1261.7L943.5 1261.8L947.5 1261.8L951.5 1261.9L955.5 1261.9L959.5 1261.9L963.5 1262.0L967.5 1262.0L971.5 1262.0L975.5 1262.0L979.5 1262.1L983.5 1262.1L987.5 1262.1L991.5 1262.1L995.5 1262.1L999.5 1262.2L1003.5 1262.2L1007.5 1262.2L1011.5 1262.2L1015.5 1262.2L1019.5 1262.2L1023.5 1262.3L1027.5 1262.3L1031.5 1262.3L1035.5 1262.3L1039.5 1262.3L1043.5 1262.3L1047.5 1262.3L1051.5 1262.3L1055.5 1262.3L1059.5 1262.4L1063.5 1262.4L1067.5 1262.4L1071.5 1262.4L1075.5 1262.4L1079.5 1262.4L1083.5 1262.4L1087.5 1262.4L1091.5 1262.4L1095.5 1262.4L1099.5 1262.4L1103.5 1262.4L1107.5 1262.4L1111.5 1262.5L1115.5 1262.5L1119.5 1262.5L1123.5 1262.5L1127.5 1262.5L1131.5 1262.5L1135.5 1262.5L1139.5 1262.5L1143.5 1262.5L1147.5 1262.5L1151.5 1262.5L1155.5 1262.5L1159.5 1262.5L1163.5 1262.5L1167.5 1262.5L1171.5 1262.5L1175.5 1262.5L1179.5 1262.5L1183.5 1262.5L1187.5 1262.5L1191.5 1262.5L1195.5 1262.5L1199.5 1262.5L1203.5 1262.5L1207.5 1262.5L1211.5 1262.5L1215.5 1262.5L1219.5 1262.5L1223.5 1262.5L1227.5 1262.5L1231.5 1262.6L1235.5 1262.6L1239.5 1262.6L1242.6 1262.6"/>
<path class="g" d="M177.3 1250.0L181.3 1250.0L185.3 1250.0L189.3 1250.0L193.3 1250.0L197.3 1250.0L201.3 1250.0L205.3 1250.0L209.3 1250.0L213.3 1249.9L217.3 1249.9L221.3 1249.9L225.3 1249.9L229.3 1249.9L233.3 1249.9L237.3 1249.9L241.3 1249.9L245.3 1249.9L249.3 1249.8L253.3 1249.8L257.3 1249.8L261.3 1249.8L265.3 1249.8L269.3 1249.8L273.3 1249.8L277.3 1249.8L281.3 1249.7L285.3 1249.7L289.3 1249.7L293.3 1249.7L297.3 1249.7L301.3 1249.7L305.3 1249.6L309.3 1249.6L313.3 1249.6L317.3 1249.6L321.3 1249.6L325.3 1249.5L329.3 1249.5L333.3 1249.5L337.3 1249.5L341.3 1249.5L345.3 1249.4L349.3 1249.4L353.3 1249.4L357.3 1249.4L361.3 1249.4L365.3 1249.3L369.3 1249.3L373.3 1249.3L377.3 1249.3L381.3 1249.3L385.3 1249.3L389.3 1249.2L393.3 1249.2L397.3 1249.2L401.3 1249.2L405.3 1249.2L409.3 1249.2L413.3 1249.2L417.3 1249.2L421.3 1249.2L425.3 1249.2L429.3 1249.1L433.3 1249.1L437.3 1249.1L441.3 1249.1L445.3 1249.1L449.3 1249.1L453.3 1249.1L457.3 1249.1L461.3 1249.1L465.3 1249.1L469.3 1249.1L473.3 1249.1L477.3 1249.1L481.3 1249.0L485.3 1249.0L489.3 1249.0L493.3 1248.9L497.3 1248.9L501.3 1248.8L505.3 1248.8L509.3 1248.7L513.3 1248.6L517.3 1248.5L521.3 1248.4L525.3 1248.3L529.3 1248.2L533.3 1248.0L537.3 1247.8L541.3 1247.6L545.3 1247.4L549.3 1247.2L553.3 1246.9L557.2 1246.6L561.2 1246.3L565.2 1245.9L569.2 1245.5L573.2 1245.1L577.1 1244.6L581.1 1244.1L585.1 1243.5L589 1242.9L593 1242.3L596.9 1241.5L600.8 1240.8L604.7 1239.9L608.6 1239.1L612.5 1238.1L616.4 1237.1L620.2 1236.0L624.1 1234.8L627.9 1233.6L631.7 1232.3L635.4 1230.9L639.2 1229.5L642.9 1228.0L646.5 1226.4L650.2 1224.7L653.8 1223.0L657.3 1221.2L660.9 1219.3L664.4 1217.4L667.9 1215.4L671.3 1213.4L674.7 1211.3L678.1 1209.1L681.4 1206.9L684.7 1204.7L688 1202.4L691.3 1200.1L694.5 1197.7L697.7 1195.3L700.9 1192.9L704.1 1190.5L707.3 1188.1L710.4 1185.6L713.6 1183.2L716.8 1180.8L720 1178.4L723.2 1176.0L726.4 1173.6L729.7 1171.3L733 1169.1L736.4 1167.0L739.9 1164.9L743.4 1163.1L747 1161.3L750.7 1159.8L754.5 1158.6L758.4 1157.6L762.3 1157.1L766.3 1156.9L770.3 1157.0L774.3 1157.4L778.3 1158.1L782.2 1158.9L786 1160.0L789.8 1161.2L793.6 1162.6L797.3 1164.1L800.9 1165.8L804.5 1167.5L808 1169.4L811.5 1171.3L815 1173.4L818.4 1175.5L821.8 1177.6L825.1 1179.8L828.4 1182.0L831.7 1184.3L835 1186.6L838.3 1188.9L841.5 1191.2L844.8 1193.5L848 1195.9L851.3 1198.2L854.5 1200.5L857.8 1202.9L861.1 1205.2L864.3 1207.5L867.6 1209.8L870.9 1212.0L874.2 1214.3L877.6 1216.5L880.9 1218.6L884.3 1220.8L887.7 1222.9L891.2 1224.9L894.6 1226.9L898.1 1228.9L901.6 1230.8L905.2 1232.6L908.8 1234.4L912.4 1236.1L916 1237.8L919.7 1239.4L923.4 1240.9L927.1 1242.4L930.8 1243.8L934.6 1245.1L938.4 1246.4L942.2 1247.5L946.1 1248.7L949.9 1249.7L953.8 1250.7L957.7 1251.6L961.6 1252.5L965.5 1253.3L969.5 1254.0L973.4 1254.7L977.4 1255.3L981.3 1255.9L985.3 1256.4L989.2 1256.9L993.2 1257.4L997.2 1257.8L1001.2 1258.2L1005.2 1258.5L1009.2 1258.8L1013.1 1259.1L1017.1 1259.4L1021.1 1259.6L1025.1 1259.8L1029.1 1260.0L1033.1 1260.2L1037.1 1260.3L1041.1 1260.5L1045.1 1260.6L1049.1 1260.7L1053.1 1260.8L1057.1 1260.9L1061.1 1261.0L1065.1 1261.1L1069.1 1261.2L1073.1 1261.2L1077.1 1261.3L1081.1 1261.4L1085.1 1261.4L1089.1 1261.5L1093.1 1261.5L1097.1 1261.6L1101.1 1261.6L1105.1 1261.6L1109.1 1261.7L1113.1 1261.7L1117.1 1261.7L1121.1 1261.8L1125.1 1261.8L1129.1 1261.8L1133.1 1261.9L1137.1 1261.9L1141.1 1261.9L1145.1 1261.9L1149.1 1261.9L1153.1 1262.0L1157.1 1262.0L1161.1 1262.0L1165.1 1262.0L1169.1 1262.0L1173.1 1262.1L1177.1 1262.1L1181.1 1262.1L1185.1 1262.1L1189.1 1262.1L1193.1 1262.1L1197.1 1262.2L1201.1 1262.2L1205.1 1262.2L1209.1 1262.2L1213.1 1262.2L1217.1 1262.2L1221.1 1262.2L1225.1 1262.2L1229.1 1262.2L1233.1 1262.3L1237.1 1262.3L1241.1 1262.3L1242.6 1262.3"/>
<path class="b" d="M177.3 1250.2L185.3 1250.2L193.3 1250.2L201.3 1250.2L209.3 1250.2L217.3 1250.2L225.3 1250.2L233.3 1250.3L241.3 1250.3L249.3 1250.3L257.3 1250.3L265.3 1250.3L273.3 1250.3L281.3 1250.3L289.3 1250.3L297.3 1250.3L305.3 1250.3L313.3 1250.4L321.3 1250.4L329.3 1250.4L337.3 1250.4L345.3 1250.5L353.3 1250.5L361.3 1250.5L369.3 1250.6L377.3 1250.6L385.3 1250.7L393.3 1250.8L401.3 1250.9L409.3 1251.0L417.3 1251.1L425.3 1251.2L433.3 1251.4L441.3 1251.5L449.3 1251.7L457.3 1251.9L465.3 1252.1L473.3 1252.3L481.3 1252.6L489.3 1252.8L497.3 1253.0L505.3 1253.3L513.3 1253.5L521.3 1253.7L529.3 1253.9L537.3 1254.2L545.3 1254.3L553.3 1254.5L561.3 1254.7L569.2 1254.9L577.2 1255.0L585.2 1255.2L593.2 1255.3L601.2 1255.4L609.2 1255.5L617.2 1255.6L625.2 1255.7L633.2 1255.9L641.2 1256.0L649.2 1256.1L657.2 1256.2L665.2 1256.3L673.2 1256.5L681.2 1256.6L689.2 1256.7L697.2 1256.9L705.2 1257.1L713.2 1257.3L721.2 1257.5L729.2 1257.7L737.2 1257.9L745.2 1258.2L753.2 1258.4L761.2 1258.7L769.2 1259.0L777.2 1259.2L785.2 1259.5L793.2 1259.7L801.2 1260.0L809.2 1260.2L817.2 1260.5L825.2 1260.7L833.2 1260.9L841.2 1261.1L849.2 1261.2L857.2 1261.4L865.2 1261.5L873.2 1261.7L881.2 1261.8L889.2 1261.9L897.2 1262.0L905.2 1262.1L913.2 1262.1L921.2 1262.2L929.2 1262.2L937.2 1262.3L945.2 1262.3L953.2 1262.4L961.2 1262.4L969.2 1262.4L977.2 1262.4L985.2 1262.5L993.2 1262.5L1001.2 1262.5L1009.2 1262.5L1017.2 1262.5L1025.2 1262.5L1033.2 1262.5L1041.2 1262.5L1049.2 1262.5L1057.2 1262.5L1065.2 1262.5L1073.2 1262.5L1081.2 1262.5L1089.2 1262.6L1097.2 1262.6L1105.2 1262.6L1113.2 1262.6L1121.2 1262.6L1129.2 1262.6L1137.2 1262.6L1145.2 1262.6L1153.2 1262.6L1161.2 1262.6L1169.2 1262.6L1177.2 1262.6L1185.2 1262.6L1193.2 1262.6L1201.2 1262.6L1209.2 1262.6L1217.2 1262.6L1225.2 1262.6L1233.2 1262.6L1241.2 1262.6L1242.6 1262.6"/>
<path class="r" d="M177.3 1249.0L181.3 1249.0L185.3 1248.9L189.3 1248.9L193.3 1248.8L197.3 1248.7L201.3 1248.7L205.3 1248.6L209.3 1248.6L213.3 1248.5L217.3 1248.4L221.3 1248.3L225.3 1248.3L229.3 1248.2L233.3 1248.1L237.3 1248.0L241.3 1247.9L245.3 1247.8L249.3 1247.7L253.3 1247.5L257.3 1247.4L261.3 1247.2L265.3 1247.1L269.3 1246.9L273.3 1246.7L277.3 1246.5L281.3 1246.2L285.2 1246.0L289.2 1245.7L293.2 1245.4L297.2 1245.0L301.2 1244.7L305.2 1244.3L309.1 1243.8L313.1 1243.3L317.1 1242.8L321 1242.2L325 1241.5L328.9 1240.8L332.8 1240.0L336.7 1239.2L340.6 1238.3L344.5 1237.3L348.4 1236.2L352.2 1235.1L356 1233.9L359.8 1232.6L363.6 1231.2L367.3 1229.7L371 1228.2L374.6 1226.6L378.3 1224.9L381.9 1223.2L385.4 1221.3L388.9 1219.4L392.4 1217.5L395.9 1215.5L399.3 1213.4L402.7 1211.3L406.1 1209.1L409.4 1206.9L412.7 1204.7L416 1202.4L419.3 1200.1L422.6 1197.8L425.8 1195.5L429 1193.1L432.3 1190.8L435.5 1188.4L438.8 1186.1L442 1183.7L445.3 1181.4L448.6 1179.2L451.9 1176.9L455.2 1174.7L458.6 1172.6L462.1 1170.6L465.5 1168.6L469.1 1166.8L472.7 1165.1L476.4 1163.6L480.2 1162.2L484 1161.1L488 1160.3L491.9 1159.7L495.9 1159.5L499.9 1159.5L503.9 1159.9L507.8 1160.6L511.7 1161.6L515.5 1162.8L519.2 1164.3L522.9 1165.9L526.5 1167.6L530 1169.5L533.5 1171.4L537 1173.4L540.4 1175.5L543.8 1177.6L547.2 1179.7L550.6 1181.8L554 1184.0L557.4 1186.1L560.8 1188.2L564.2 1190.3L567.6 1192.3L571.1 1194.3L574.6 1196.3L578.1 1198.2L581.7 1200.0L585.3 1201.7L588.9 1203.4L592.6 1204.9L596.3 1206.4L600.1 1207.7L603.9 1208.9L607.8 1209.9L611.7 1210.8L615.6 1211.6L619.6 1212.1L623.6 1212.5L627.6 1212.7L631.6 1212.8L635.6 1212.6L639.5 1212.3L643.5 1211.8L647.4 1211.1L651.4 1210.3L655.2 1209.3L659.1 1208.2L662.9 1206.9L666.6 1205.5L670.3 1203.9L673.9 1202.3L677.5 1200.5L681.1 1198.7L684.6 1196.8L688.1 1194.8L691.5 1192.7L694.9 1190.6L698.2 1188.4L701.6 1186.2L704.9 1184.0L708.2 1181.7L711.5 1179.4L714.8 1177.1L718 1174.9L721.3 1172.6L724.7 1170.4L728 1168.2L731.4 1166.0L734.8 1164.0L738.3 1162.0L741.8 1160.1L745.5 1158.5L749.2 1157.0L753 1155.8L756.9 1154.8L760.8 1154.2L764.8 1154.0L768.8 1154.2L772.8 1154.6L776.7 1155.2L780.6 1156.1L784.5 1157.1L788.3 1158.4L792.1 1159.8L795.7 1161.3L799.4 1163.0L803 1164.8L806.5 1166.6L810 1168.6L813.4 1170.6L816.8 1172.7L820.2 1174.9L823.5 1177.1L826.8 1179.4L830.1 1181.6L833.4 1184.0L836.6 1186.3L839.9 1188.6L843.1 1191.0L846.3 1193.3L849.6 1195.7L852.8 1198.1L856 1200.4L859.3 1202.8L862.5 1205.1L865.8 1207.4L869.1 1209.7L872.4 1212.0L875.7 1214.2L879 1216.4L882.4 1218.6L885.8 1220.7L889.2 1222.8L892.6 1224.9L896.1 1226.9L899.5 1228.8L903.1 1230.7L906.6 1232.6L910.2 1234.4L913.8 1236.1L917.4 1237.7L921.1 1239.3L924.8 1240.8L928.5 1242.3L932.3 1243.7L936.1 1245.0L939.9 1246.3L943.7 1247.4L947.5 1248.5L951.4 1249.6L955.3 1250.6L959.2 1251.5L963.1 1252.3L967 1253.1L970.9 1253.8L974.9 1254.5L978.8 1255.2L982.8 1255.7L986.7 1256.3L990.7 1256.7L994.7 1257.2L998.7 1257.6L1002.7 1258.0L1006.6 1258.3L1010.6 1258.6L1014.6 1258.9L1018.6 1259.2L1022.6 1259.4L1026.6 1259.6L1030.6 1259.8L1034.6 1260.0L1038.6 1260.2L1042.6 1260.3L1046.6 1260.4L1050.6 1260.6L1054.6 1260.7L1058.6 1260.8L1062.6 1260.9L1066.6 1261.0L1070.6 1261.0L1074.6 1261.1L1078.6 1261.2L1082.6 1261.2L1086.6 1261.3L1090.6 1261.4L1094.6 1261.4L1098.6 1261.4L1102.6 1261.5L1106.6 1261.5L1110.6 1261.6L1114.6 1261.6L1118.6 1261.6L1122.6 1261.7L1126.6 1261.7L1130.6 1261.7L1134.6 1261.8L1138.6 1261.8L1142.6 1261.8L1146.6 1261.9L1150.6 1261.9L1154.6 1261.9L1158.6 1261.9L1162.6 1261.9L1166.6 1262.0L1170.6 1262.0L1174.6 1262.0L1178.6 1262.0L1182.6 1262.0L1186.6 1262.1L1190.6 1262.1L1194.6 1262.1L1198.6 1262.1L1202.6 1262.1L1206.6 1262.1L1210.6 1262.2L1214.6 1262.2L1218.6 1262.2L1222.6 1262.2L1226.6 1262.2L1230.6 1262.2L1234.6 1262.2L1238.6 1262.2L1242.6 1262.3L1242.6 1262.3"/>
</g>
<g fill="#000"><rect x="173.6" y="450.0" width="1070.4" height="5.1"/><rect x="173.6" y="450.0" width="5.2" height="25.8"/><rect x="249.7" y="450.0" width="5.2" height="14.8"/><rect x="325.8" y="450.0" width="5.2" height="25.8"/><rect x="401.9" y="450.0" width="5.2" height="14.8"/><rect x="477.9" y="450.0" width="5.2" height="25.8"/><rect x="554.0" y="450.0" width="5.2" height="14.8"/><rect x="630.1" y="450.0" width="5.2" height="25.8"/><rect x="706.2" y="450.0" width="5.2" height="14.8"/><rect x="782.3" y="450.0" width="5.2" height="25.8"/><rect x="858.4" y="450.0" width="5.2" height="14.8"/><rect x="934.5" y="450.0" width="5.2" height="25.8"/><rect x="1010.5" y="450.0" width="5.2" height="14.8"/><rect x="1086.6" y="450.0" width="5.2" height="25.8"/><rect x="1162.7" y="450.0" width="5.2" height="14.8"/><rect x="1238.8" y="450.0" width="5.2" height="25.8"/></g>
<g fill="#000"><rect x="173.6" y="881.9" width="1070.4" height="5.6"/><rect x="173.6" y="881.9" width="5.2" height="25.6"/><rect x="249.7" y="881.9" width="5.2" height="13.8"/><rect x="325.8" y="881.9" width="5.2" height="25.6"/><rect x="401.9" y="881.9" width="5.2" height="13.8"/><rect x="477.9" y="881.9" width="5.2" height="25.6"/><rect x="554.0" y="881.9" width="5.2" height="13.8"/><rect x="630.1" y="881.9" width="5.2" height="25.6"/><rect x="706.2" y="881.9" width="5.2" height="13.8"/><rect x="782.3" y="881.9" width="5.2" height="25.6"/><rect x="858.4" y="881.9" width="5.2" height="13.8"/><rect x="934.5" y="881.9" width="5.2" height="25.6"/><rect x="1010.5" y="881.9" width="5.2" height="13.8"/><rect x="1086.6" y="881.9" width="5.2" height="25.6"/><rect x="1162.7" y="881.9" width="5.2" height="13.8"/><rect x="1238.8" y="881.9" width="5.2" height="25.6"/></g>
<g fill="#000"><rect x="173.6" y="1303.0" width="1070.4" height="5.9"/><rect x="173.6" y="1303.0" width="5.2" height="26.8"/><rect x="249.7" y="1303.0" width="5.2" height="14.8"/><rect x="325.8" y="1303.0" width="5.2" height="26.8"/><rect x="401.9" y="1303.0" width="5.2" height="14.8"/><rect x="477.9" y="1303.0" width="5.2" height="26.8"/><rect x="554.0" y="1303.0" width="5.2" height="14.8"/><rect x="630.1" y="1303.0" width="5.2" height="26.8"/><rect x="706.2" y="1303.0" width="5.2" height="14.8"/><rect x="782.3" y="1303.0" width="5.2" height="26.8"/><rect x="858.4" y="1303.0" width="5.2" height="14.8"/><rect x="934.5" y="1303.0" width="5.2" height="26.8"/><rect x="1010.5" y="1303.0" width="5.2" height="14.8"/><rect x="1086.6" y="1303.0" width="5.2" height="26.8"/><rect x="1162.7" y="1303.0" width="5.2" height="14.8"/><rect x="1238.8" y="1303.0" width="5.2" height="26.8"/></g>
<text font-size="72"><tspan x="177.4" y="78.9">Au-CeO</tspan><tspan x="438.8" y="98.9" font-size="48">2</tspan><tspan x="467.9" y="78.2" font-size="69" stroke-width="1.6">_</tspan><tspan x="507.8" y="78.9">H</tspan></text>
<text font-size="72"><tspan x="177.4" y="564.7">Au-CeO</tspan><tspan x="438.8" y="584.7" font-size="48">2</tspan><tspan x="467.9" y="564.1" font-size="69" stroke-width="1.6">_</tspan><tspan x="508.8" y="564.7">U</tspan></text>
<text font-size="72"><tspan x="177.4" y="999.8">Au-CeO</tspan><tspan x="438.6" y="1019.7" font-size="48">2</tspan><tspan x="467.9" y="999.1" font-size="69" stroke-width="1.6">_</tspan><tspan x="507.2" y="999.8">N</tspan></text>
<text x="478.2" y="189.9" font-size="61" letter-spacing="-0.37">87.4</text>
<text x="763.2" y="134.9" font-size="61" letter-spacing="-0.03">83.7</text>
<text x="478.2" y="668.8" font-size="61" letter-spacing="-0.37">87.4</text>
<text x="755.2" y="661.0" font-size="61" letter-spacing="-0.03">83.7</text>
<text x="451.2" y="1104.0" font-size="61" letter-spacing="-0.03">87.8</text>
<text x="724.2" y="1106.0" font-size="61">84.1</text>
<text x="209.2" y="318.9" font-size="61" letter-spacing="-0.20">20</text>
<text x="210.0" y="758.9" font-size="61" letter-spacing="-0.40">40</text>
<text x="204.0" y="1193.0" font-size="61" letter-spacing="-0.60">40</text>
<text x="136.2" y="1400.8" font-size="72.5">92</text>
<text x="287.9" y="1400.8" font-size="72.5">90</text>
<text x="440.0" y="1400.8" font-size="72.5">88</text>
<text x="592.2" y="1400.8" font-size="72.5">86</text>
<text x="743.9" y="1400.8" font-size="72.5">84</text>
<text x="897.1" y="1400.8" font-size="72.5">82</text>
<text x="1048.7" y="1400.8" font-size="72.5">80</text>
<text x="1200.9" y="1400.8" font-size="72.5">78</text>
<text x="1058.6" y="108.5" font-size="86" letter-spacing="1.60">Au4f</text>
<text x="339.4" y="1495.8" font-size="86" letter-spacing="0.20">Binding Energy, eV</text>
<text transform="translate(75 1168.1) rotate(-90)" font-size="85.75">Counts per second, a.u.</text>
<g fill="#000"><rect x="188.8" y="273.8" width="6.2" height="46.2"/><rect x="185.9" y="702" width="7.2" height="69"/><rect x="184" y="1139" width="7.1" height="69.9"/></g>
</svg>
</body></html>
